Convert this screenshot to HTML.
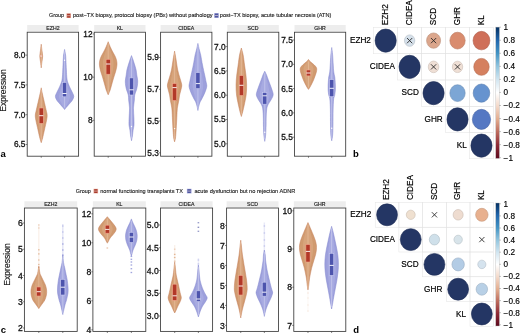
<!DOCTYPE html>
<html><head><meta charset="utf-8"><title>Figure</title>
<style>html,body{margin:0;padding:0;background:#fff;width:520px;height:333px;overflow:hidden}svg{display:block}text{font-family:"Liberation Sans",sans-serif}</style>
</head><body>
<svg width="520" height="333" viewBox="0 0 520 333">
<rect width="520" height="333" fill="#ffffff"/>
<rect x="27.20" y="25.00" width="51.40" height="6.20" fill="#ededed"/>
<text x="52.90" y="29.90" font-size="5.20" text-anchor="middle" fill="#1a1a1a" stroke="#1a1a1a" stroke-width="0.15">EZH2</text>
<line x1="25.60" y1="144.50" x2="27.20" y2="144.50" stroke="#333" stroke-width="0.6"/>
<text x="25.50" y="147.49" font-size="8.30" text-anchor="end" fill="#111" stroke="#111" stroke-width="0.28">6.5</text>
<line x1="25.60" y1="114.70" x2="27.20" y2="114.70" stroke="#333" stroke-width="0.6"/>
<text x="25.50" y="117.69" font-size="8.30" text-anchor="end" fill="#111" stroke="#111" stroke-width="0.28">7.0</text>
<line x1="25.60" y1="84.90" x2="27.20" y2="84.90" stroke="#333" stroke-width="0.6"/>
<text x="25.50" y="87.89" font-size="8.30" text-anchor="end" fill="#111" stroke="#111" stroke-width="0.28">7.5</text>
<line x1="25.60" y1="55.10" x2="27.20" y2="55.10" stroke="#333" stroke-width="0.6"/>
<text x="25.50" y="58.09" font-size="8.30" text-anchor="end" fill="#111" stroke="#111" stroke-width="0.28">8.0</text>
<line x1="41.22" y1="156.20" x2="41.22" y2="157.80" stroke="#333" stroke-width="0.6"/>
<line x1="64.58" y1="156.20" x2="64.58" y2="157.80" stroke="#333" stroke-width="0.6"/>
<rect x="94.20" y="25.00" width="51.30" height="6.20" fill="#ededed"/>
<text x="119.85" y="29.90" font-size="5.20" text-anchor="middle" fill="#1a1a1a" stroke="#1a1a1a" stroke-width="0.15">KL</text>
<line x1="92.60" y1="120.30" x2="94.20" y2="120.30" stroke="#333" stroke-width="0.6"/>
<text x="92.50" y="123.29" font-size="8.30" text-anchor="end" fill="#111" stroke="#111" stroke-width="0.28">8</text>
<line x1="92.60" y1="77.15" x2="94.20" y2="77.15" stroke="#333" stroke-width="0.6"/>
<text x="92.50" y="80.14" font-size="8.30" text-anchor="end" fill="#111" stroke="#111" stroke-width="0.28">10</text>
<line x1="92.60" y1="34.00" x2="94.20" y2="34.00" stroke="#333" stroke-width="0.6"/>
<text x="92.50" y="36.99" font-size="8.30" text-anchor="end" fill="#111" stroke="#111" stroke-width="0.28">12</text>
<line x1="108.19" y1="156.20" x2="108.19" y2="157.80" stroke="#333" stroke-width="0.6"/>
<line x1="131.51" y1="156.20" x2="131.51" y2="157.80" stroke="#333" stroke-width="0.6"/>
<rect x="160.60" y="25.00" width="51.30" height="6.20" fill="#ededed"/>
<text x="186.25" y="29.90" font-size="5.20" text-anchor="middle" fill="#1a1a1a" stroke="#1a1a1a" stroke-width="0.15">CIDEA</text>
<line x1="159.00" y1="152.80" x2="160.60" y2="152.80" stroke="#333" stroke-width="0.6"/>
<text x="158.90" y="155.79" font-size="8.30" text-anchor="end" fill="#111" stroke="#111" stroke-width="0.28">5.3</text>
<line x1="159.00" y1="121.03" x2="160.60" y2="121.03" stroke="#333" stroke-width="0.6"/>
<text x="158.90" y="124.02" font-size="8.30" text-anchor="end" fill="#111" stroke="#111" stroke-width="0.28">5.5</text>
<line x1="159.00" y1="89.27" x2="160.60" y2="89.27" stroke="#333" stroke-width="0.6"/>
<text x="158.90" y="92.25" font-size="8.30" text-anchor="end" fill="#111" stroke="#111" stroke-width="0.28">5.7</text>
<line x1="159.00" y1="57.50" x2="160.60" y2="57.50" stroke="#333" stroke-width="0.6"/>
<text x="158.90" y="60.49" font-size="8.30" text-anchor="end" fill="#111" stroke="#111" stroke-width="0.28">5.9</text>
<line x1="174.59" y1="156.20" x2="174.59" y2="157.80" stroke="#333" stroke-width="0.6"/>
<line x1="197.91" y1="156.20" x2="197.91" y2="157.80" stroke="#333" stroke-width="0.6"/>
<rect x="227.30" y="25.00" width="51.50" height="6.20" fill="#ededed"/>
<text x="253.05" y="29.90" font-size="5.20" text-anchor="middle" fill="#1a1a1a" stroke="#1a1a1a" stroke-width="0.15">SCD</text>
<line x1="225.70" y1="143.80" x2="227.30" y2="143.80" stroke="#333" stroke-width="0.6"/>
<text x="225.60" y="146.79" font-size="8.30" text-anchor="end" fill="#111" stroke="#111" stroke-width="0.28">5.0</text>
<line x1="225.70" y1="119.50" x2="227.30" y2="119.50" stroke="#333" stroke-width="0.6"/>
<text x="225.60" y="122.49" font-size="8.30" text-anchor="end" fill="#111" stroke="#111" stroke-width="0.28">5.5</text>
<line x1="225.70" y1="95.20" x2="227.30" y2="95.20" stroke="#333" stroke-width="0.6"/>
<text x="225.60" y="98.19" font-size="8.30" text-anchor="end" fill="#111" stroke="#111" stroke-width="0.28">6.0</text>
<line x1="225.70" y1="70.90" x2="227.30" y2="70.90" stroke="#333" stroke-width="0.6"/>
<text x="225.60" y="73.89" font-size="8.30" text-anchor="end" fill="#111" stroke="#111" stroke-width="0.28">6.5</text>
<line x1="225.70" y1="46.60" x2="227.30" y2="46.60" stroke="#333" stroke-width="0.6"/>
<text x="225.60" y="49.59" font-size="8.30" text-anchor="end" fill="#111" stroke="#111" stroke-width="0.28">7.0</text>
<line x1="241.35" y1="156.20" x2="241.35" y2="157.80" stroke="#333" stroke-width="0.6"/>
<line x1="264.75" y1="156.20" x2="264.75" y2="157.80" stroke="#333" stroke-width="0.6"/>
<rect x="294.50" y="25.00" width="51.20" height="6.20" fill="#ededed"/>
<text x="320.10" y="29.90" font-size="5.20" text-anchor="middle" fill="#1a1a1a" stroke="#1a1a1a" stroke-width="0.15">GHR</text>
<line x1="292.90" y1="137.20" x2="294.50" y2="137.20" stroke="#333" stroke-width="0.6"/>
<text x="292.80" y="140.19" font-size="8.30" text-anchor="end" fill="#111" stroke="#111" stroke-width="0.28">5.5</text>
<line x1="292.90" y1="112.90" x2="294.50" y2="112.90" stroke="#333" stroke-width="0.6"/>
<text x="292.80" y="115.89" font-size="8.30" text-anchor="end" fill="#111" stroke="#111" stroke-width="0.28">6.0</text>
<line x1="292.90" y1="88.60" x2="294.50" y2="88.60" stroke="#333" stroke-width="0.6"/>
<text x="292.80" y="91.59" font-size="8.30" text-anchor="end" fill="#111" stroke="#111" stroke-width="0.28">6.5</text>
<line x1="292.90" y1="64.30" x2="294.50" y2="64.30" stroke="#333" stroke-width="0.6"/>
<text x="292.80" y="67.29" font-size="8.30" text-anchor="end" fill="#111" stroke="#111" stroke-width="0.28">7.0</text>
<line x1="292.90" y1="40.00" x2="294.50" y2="40.00" stroke="#333" stroke-width="0.6"/>
<text x="292.80" y="42.99" font-size="8.30" text-anchor="end" fill="#111" stroke="#111" stroke-width="0.28">7.5</text>
<line x1="308.46" y1="156.20" x2="308.46" y2="157.80" stroke="#333" stroke-width="0.6"/>
<line x1="331.74" y1="156.20" x2="331.74" y2="157.80" stroke="#333" stroke-width="0.6"/>
<rect x="24.40" y="201.30" width="52.80" height="5.60" fill="#ededed"/>
<text x="50.80" y="205.60" font-size="5.20" text-anchor="middle" fill="#1a1a1a" stroke="#1a1a1a" stroke-width="0.15">EZH2</text>
<line x1="22.80" y1="328.00" x2="24.40" y2="328.00" stroke="#333" stroke-width="0.6"/>
<text x="22.70" y="331.10" font-size="8.60" text-anchor="end" fill="#111" stroke="#111" stroke-width="0.28">2</text>
<line x1="22.80" y1="301.75" x2="24.40" y2="301.75" stroke="#333" stroke-width="0.6"/>
<text x="22.70" y="304.85" font-size="8.60" text-anchor="end" fill="#111" stroke="#111" stroke-width="0.28">3</text>
<line x1="22.80" y1="275.50" x2="24.40" y2="275.50" stroke="#333" stroke-width="0.6"/>
<text x="22.70" y="278.60" font-size="8.60" text-anchor="end" fill="#111" stroke="#111" stroke-width="0.28">4</text>
<line x1="22.80" y1="249.25" x2="24.40" y2="249.25" stroke="#333" stroke-width="0.6"/>
<text x="22.70" y="252.35" font-size="8.60" text-anchor="end" fill="#111" stroke="#111" stroke-width="0.28">5</text>
<line x1="22.80" y1="223.00" x2="24.40" y2="223.00" stroke="#333" stroke-width="0.6"/>
<text x="22.70" y="226.10" font-size="8.60" text-anchor="end" fill="#111" stroke="#111" stroke-width="0.28">6</text>
<line x1="38.80" y1="331.40" x2="38.80" y2="333.00" stroke="#333" stroke-width="0.6"/>
<line x1="62.80" y1="331.40" x2="62.80" y2="333.00" stroke="#333" stroke-width="0.6"/>
<rect x="92.90" y="201.30" width="52.90" height="5.60" fill="#ededed"/>
<text x="119.35" y="205.60" font-size="5.20" text-anchor="middle" fill="#1a1a1a" stroke="#1a1a1a" stroke-width="0.15">KL</text>
<line x1="91.30" y1="329.80" x2="92.90" y2="329.80" stroke="#333" stroke-width="0.6"/>
<text x="91.20" y="332.90" font-size="8.60" text-anchor="end" fill="#111" stroke="#111" stroke-width="0.28">4</text>
<line x1="91.30" y1="300.80" x2="92.90" y2="300.80" stroke="#333" stroke-width="0.6"/>
<text x="91.20" y="303.90" font-size="8.60" text-anchor="end" fill="#111" stroke="#111" stroke-width="0.28">6</text>
<line x1="91.30" y1="271.80" x2="92.90" y2="271.80" stroke="#333" stroke-width="0.6"/>
<text x="91.20" y="274.90" font-size="8.60" text-anchor="end" fill="#111" stroke="#111" stroke-width="0.28">8</text>
<line x1="91.30" y1="242.80" x2="92.90" y2="242.80" stroke="#333" stroke-width="0.6"/>
<text x="91.20" y="245.90" font-size="8.60" text-anchor="end" fill="#111" stroke="#111" stroke-width="0.28">10</text>
<line x1="91.30" y1="213.80" x2="92.90" y2="213.80" stroke="#333" stroke-width="0.6"/>
<text x="91.20" y="216.90" font-size="8.60" text-anchor="end" fill="#111" stroke="#111" stroke-width="0.28">12</text>
<line x1="107.33" y1="331.40" x2="107.33" y2="333.00" stroke="#333" stroke-width="0.6"/>
<line x1="131.37" y1="331.40" x2="131.37" y2="333.00" stroke="#333" stroke-width="0.6"/>
<rect x="160.50" y="201.30" width="52.10" height="5.60" fill="#ededed"/>
<text x="186.55" y="205.60" font-size="5.20" text-anchor="middle" fill="#1a1a1a" stroke="#1a1a1a" stroke-width="0.15">CIDEA</text>
<line x1="158.90" y1="316.00" x2="160.50" y2="316.00" stroke="#333" stroke-width="0.6"/>
<text x="158.80" y="319.10" font-size="8.60" text-anchor="end" fill="#111" stroke="#111" stroke-width="0.28">3.0</text>
<line x1="158.90" y1="293.25" x2="160.50" y2="293.25" stroke="#333" stroke-width="0.6"/>
<text x="158.80" y="296.35" font-size="8.60" text-anchor="end" fill="#111" stroke="#111" stroke-width="0.28">3.5</text>
<line x1="158.90" y1="270.50" x2="160.50" y2="270.50" stroke="#333" stroke-width="0.6"/>
<text x="158.80" y="273.60" font-size="8.60" text-anchor="end" fill="#111" stroke="#111" stroke-width="0.28">4.0</text>
<line x1="158.90" y1="247.75" x2="160.50" y2="247.75" stroke="#333" stroke-width="0.6"/>
<text x="158.80" y="250.85" font-size="8.60" text-anchor="end" fill="#111" stroke="#111" stroke-width="0.28">4.5</text>
<line x1="158.90" y1="225.00" x2="160.50" y2="225.00" stroke="#333" stroke-width="0.6"/>
<text x="158.80" y="228.10" font-size="8.60" text-anchor="end" fill="#111" stroke="#111" stroke-width="0.28">5.0</text>
<line x1="174.71" y1="331.40" x2="174.71" y2="333.00" stroke="#333" stroke-width="0.6"/>
<line x1="198.39" y1="331.40" x2="198.39" y2="333.00" stroke="#333" stroke-width="0.6"/>
<rect x="226.60" y="201.30" width="51.90" height="5.60" fill="#ededed"/>
<text x="252.55" y="205.60" font-size="5.20" text-anchor="middle" fill="#1a1a1a" stroke="#1a1a1a" stroke-width="0.15">SCD</text>
<line x1="225.00" y1="325.40" x2="226.60" y2="325.40" stroke="#333" stroke-width="0.6"/>
<text x="224.90" y="328.50" font-size="8.60" text-anchor="end" fill="#111" stroke="#111" stroke-width="0.28">3</text>
<line x1="225.00" y1="305.42" x2="226.60" y2="305.42" stroke="#333" stroke-width="0.6"/>
<text x="224.90" y="308.52" font-size="8.60" text-anchor="end" fill="#111" stroke="#111" stroke-width="0.28">4</text>
<line x1="225.00" y1="285.44" x2="226.60" y2="285.44" stroke="#333" stroke-width="0.6"/>
<text x="224.90" y="288.54" font-size="8.60" text-anchor="end" fill="#111" stroke="#111" stroke-width="0.28">5</text>
<line x1="225.00" y1="265.46" x2="226.60" y2="265.46" stroke="#333" stroke-width="0.6"/>
<text x="224.90" y="268.56" font-size="8.60" text-anchor="end" fill="#111" stroke="#111" stroke-width="0.28">6</text>
<line x1="225.00" y1="245.48" x2="226.60" y2="245.48" stroke="#333" stroke-width="0.6"/>
<text x="224.90" y="248.58" font-size="8.60" text-anchor="end" fill="#111" stroke="#111" stroke-width="0.28">7</text>
<line x1="225.00" y1="225.50" x2="226.60" y2="225.50" stroke="#333" stroke-width="0.6"/>
<text x="224.90" y="228.60" font-size="8.60" text-anchor="end" fill="#111" stroke="#111" stroke-width="0.28">8</text>
<line x1="240.75" y1="331.40" x2="240.75" y2="333.00" stroke="#333" stroke-width="0.6"/>
<line x1="264.35" y1="331.40" x2="264.35" y2="333.00" stroke="#333" stroke-width="0.6"/>
<rect x="293.80" y="201.30" width="52.00" height="5.60" fill="#ededed"/>
<text x="319.80" y="205.60" font-size="5.20" text-anchor="middle" fill="#1a1a1a" stroke="#1a1a1a" stroke-width="0.15">GHR</text>
<line x1="292.20" y1="325.40" x2="293.80" y2="325.40" stroke="#333" stroke-width="0.6"/>
<text x="292.10" y="328.50" font-size="8.60" text-anchor="end" fill="#111" stroke="#111" stroke-width="0.28">7</text>
<line x1="292.20" y1="287.20" x2="293.80" y2="287.20" stroke="#333" stroke-width="0.6"/>
<text x="292.10" y="290.30" font-size="8.60" text-anchor="end" fill="#111" stroke="#111" stroke-width="0.28">8</text>
<line x1="292.20" y1="249.00" x2="293.80" y2="249.00" stroke="#333" stroke-width="0.6"/>
<text x="292.10" y="252.10" font-size="8.60" text-anchor="end" fill="#111" stroke="#111" stroke-width="0.28">9</text>
<line x1="292.20" y1="210.80" x2="293.80" y2="210.80" stroke="#333" stroke-width="0.6"/>
<text x="292.10" y="213.90" font-size="8.60" text-anchor="end" fill="#111" stroke="#111" stroke-width="0.28">10</text>
<line x1="307.98" y1="331.40" x2="307.98" y2="333.00" stroke="#333" stroke-width="0.6"/>
<line x1="331.62" y1="331.40" x2="331.62" y2="333.00" stroke="#333" stroke-width="0.6"/>
<path d="M41.22 44.20 C41.33 45.17 41.68 47.98 41.92 50.00 C42.16 52.02 42.67 54.30 42.67 56.30 C42.67 58.30 42.16 60.07 41.92 62.00 C41.68 63.93 41.33 66.92 41.22 67.90 L41.22 67.90 C41.10 66.92 40.76 63.93 40.52 62.00 C40.28 60.07 39.77 58.30 39.77 56.30 C39.77 54.30 40.28 52.02 40.52 50.00 C40.76 47.98 41.10 45.17 41.22 44.20 Z" fill="#d09a6f" stroke="#c47e5a" stroke-width="0.5"/>
<path d="M41.22 44.20 C41.29 45.17 41.49 47.98 41.64 50.00 C41.78 52.02 42.09 54.30 42.09 56.30 C42.09 58.30 41.78 60.07 41.64 62.00 C41.49 63.93 41.29 66.92 41.22 67.90 L41.22 67.90 C41.15 66.92 40.94 63.93 40.80 62.00 C40.65 60.07 40.35 58.30 40.35 56.30 C40.35 54.30 40.65 52.02 40.80 50.00 C40.94 47.98 41.15 45.17 41.22 44.20 Z" fill="#e6b896" fill-opacity="0.35"/>
<line x1="41.22" y1="46.20" x2="41.22" y2="65.90" stroke="#f2cdb0" stroke-width="0.45"/>
<rect x="40.42" y="55.60" width="1.60" height="1.00" fill="#b23828" stroke="#f0a48a" stroke-width="0.6"/>
<line x1="40.42" y1="56.10" x2="42.02" y2="56.10" stroke="#ffffff" stroke-width="0.9"/>
<path d="M41.22 87.80 C41.38 88.67 41.78 90.97 42.22 93.00 C42.65 95.03 43.17 97.17 43.82 100.00 C44.47 102.83 45.57 107.50 46.12 110.00 C46.67 112.50 47.03 113.33 47.12 115.00 C47.20 116.67 47.07 117.50 46.62 120.00 C46.17 122.50 45.08 127.00 44.42 130.00 C43.75 133.00 43.15 135.88 42.62 138.00 C42.08 140.12 41.45 141.92 41.22 142.70 L41.22 142.70 C40.98 141.92 40.35 140.12 39.82 138.00 C39.28 135.88 38.68 133.00 38.02 130.00 C37.35 127.00 36.27 122.50 35.82 120.00 C35.37 117.50 35.23 116.67 35.32 115.00 C35.40 113.33 35.77 112.50 36.32 110.00 C36.87 107.50 37.97 102.83 38.62 100.00 C39.27 97.17 39.78 95.03 40.22 93.00 C40.65 90.97 41.05 88.67 41.22 87.80 Z" fill="#d09a6f" stroke="#c47e5a" stroke-width="0.5"/>
<path d="M41.22 87.80 C41.32 88.67 41.56 90.97 41.82 93.00 C42.08 95.03 42.39 97.17 42.78 100.00 C43.17 102.83 43.83 107.50 44.16 110.00 C44.49 112.50 44.71 113.33 44.76 115.00 C44.81 116.67 44.73 117.50 44.46 120.00 C44.19 122.50 43.54 127.00 43.14 130.00 C42.74 133.00 42.38 135.88 42.06 138.00 C41.74 140.12 41.36 141.92 41.22 142.70 L41.22 142.70 C41.08 141.92 40.70 140.12 40.38 138.00 C40.06 135.88 39.70 133.00 39.30 130.00 C38.90 127.00 38.25 122.50 37.98 120.00 C37.71 117.50 37.63 116.67 37.68 115.00 C37.73 113.33 37.95 112.50 38.28 110.00 C38.61 107.50 39.27 102.83 39.66 100.00 C40.05 97.17 40.36 95.03 40.62 93.00 C40.88 90.97 41.12 88.67 41.22 87.80 Z" fill="#e6b896" fill-opacity="0.35"/>
<line x1="41.22" y1="89.80" x2="41.22" y2="140.70" stroke="#f2cdb0" stroke-width="0.45"/>
<rect x="39.12" y="108.00" width="4.20" height="15.30" fill="#b23828" stroke="#f0a48a" stroke-width="0.6"/>
<line x1="39.12" y1="115.70" x2="43.32" y2="115.70" stroke="#ffffff" stroke-width="0.9"/>
<path d="M64.58 49.40 C64.75 50.33 65.36 53.23 65.58 55.00 C65.81 56.77 65.80 57.50 65.93 60.00 C66.07 62.50 66.21 66.83 66.38 70.00 C66.56 73.17 66.65 76.67 66.98 79.00 C67.32 81.33 67.78 82.33 68.38 84.00 C68.98 85.67 69.88 87.50 70.58 89.00 C71.28 90.50 72.05 91.75 72.58 93.00 C73.12 94.25 73.85 95.25 73.78 96.50 C73.72 97.75 73.02 99.17 72.18 100.50 C71.35 101.83 69.78 103.33 68.78 104.50 C67.78 105.67 66.88 106.67 66.18 107.50 C65.48 108.33 64.85 109.17 64.58 109.50 L64.58 109.50 C64.32 109.17 63.68 108.33 62.98 107.50 C62.28 106.67 61.38 105.67 60.38 104.50 C59.38 103.33 57.82 101.83 56.98 100.50 C56.15 99.17 55.45 97.75 55.38 96.50 C55.32 95.25 56.05 94.25 56.58 93.00 C57.12 91.75 57.88 90.50 58.58 89.00 C59.28 87.50 60.18 85.67 60.78 84.00 C61.38 82.33 61.85 81.33 62.18 79.00 C62.52 76.67 62.61 73.17 62.78 70.00 C62.96 66.83 63.10 62.50 63.23 60.00 C63.37 57.50 63.36 56.77 63.58 55.00 C63.81 53.23 64.42 50.33 64.58 49.40 Z" fill="#9da0dc" stroke="#8387cf" stroke-width="0.5"/>
<path d="M64.58 49.40 C64.68 50.33 65.05 53.23 65.18 55.00 C65.32 56.77 65.31 57.50 65.39 60.00 C65.47 62.50 65.56 66.83 65.66 70.00 C65.77 73.17 65.82 76.67 66.02 79.00 C66.22 81.33 66.50 82.33 66.86 84.00 C67.22 85.67 67.76 87.50 68.18 89.00 C68.60 90.50 69.06 91.75 69.38 93.00 C69.70 94.25 70.14 95.25 70.10 96.50 C70.06 97.75 69.64 99.17 69.14 100.50 C68.64 101.83 67.70 103.33 67.10 104.50 C66.50 105.67 65.96 106.67 65.54 107.50 C65.12 108.33 64.74 109.17 64.58 109.50 L64.58 109.50 C64.42 109.17 64.04 108.33 63.62 107.50 C63.20 106.67 62.66 105.67 62.06 104.50 C61.46 103.33 60.52 101.83 60.02 100.50 C59.52 99.17 59.10 97.75 59.06 96.50 C59.02 95.25 59.46 94.25 59.78 93.00 C60.10 91.75 60.56 90.50 60.98 89.00 C61.40 87.50 61.94 85.67 62.30 84.00 C62.66 82.33 62.94 81.33 63.14 79.00 C63.34 76.67 63.40 73.17 63.50 70.00 C63.61 66.83 63.69 62.50 63.77 60.00 C63.85 57.50 63.85 56.77 63.98 55.00 C64.12 53.23 64.48 50.33 64.58 49.40 Z" fill="#babdec" fill-opacity="0.35"/>
<line x1="64.58" y1="51.40" x2="64.58" y2="107.50" stroke="#dedff6" stroke-width="0.45"/>
<rect x="62.48" y="82.50" width="4.20" height="14.30" fill="#4d54ad" stroke="#c6c9f0" stroke-width="0.6"/>
<line x1="62.48" y1="93.50" x2="66.68" y2="93.50" stroke="#ffffff" stroke-width="0.9"/>
<circle cx="64.58" cy="60.30" r="0.7" fill="#ffffff"/>
<path d="M108.19 41.70 C108.41 42.25 109.06 43.95 109.49 45.00 C109.92 46.05 110.24 46.83 110.79 48.00 C111.34 49.17 112.09 50.67 112.79 52.00 C113.49 53.33 114.37 54.67 114.99 56.00 C115.61 57.33 116.16 58.67 116.49 60.00 C116.82 61.33 116.99 62.67 116.99 64.00 C116.99 65.33 116.74 66.67 116.49 68.00 C116.24 69.33 115.87 70.67 115.49 72.00 C115.11 73.33 114.61 74.67 114.19 76.00 C113.77 77.33 113.42 78.50 112.99 80.00 C112.56 81.50 112.06 83.33 111.59 85.00 C111.12 86.67 110.76 88.37 110.19 90.00 C109.62 91.63 108.52 94.00 108.19 94.80 L108.19 94.80 C107.86 94.00 106.76 91.63 106.19 90.00 C105.62 88.37 105.26 86.67 104.79 85.00 C104.32 83.33 103.82 81.50 103.39 80.00 C102.96 78.50 102.61 77.33 102.19 76.00 C101.77 74.67 101.27 73.33 100.89 72.00 C100.51 70.67 100.14 69.33 99.89 68.00 C99.64 66.67 99.39 65.33 99.39 64.00 C99.39 62.67 99.56 61.33 99.89 60.00 C100.22 58.67 100.77 57.33 101.39 56.00 C102.01 54.67 102.89 53.33 103.59 52.00 C104.29 50.67 105.04 49.17 105.59 48.00 C106.14 46.83 106.46 46.05 106.89 45.00 C107.32 43.95 107.97 42.25 108.19 41.70 Z" fill="#d09a6f" stroke="#c47e5a" stroke-width="0.5"/>
<path d="M108.19 41.70 C108.32 42.25 108.71 43.95 108.97 45.00 C109.23 46.05 109.42 46.83 109.75 48.00 C110.08 49.17 110.53 50.67 110.95 52.00 C111.37 53.33 111.90 54.67 112.27 56.00 C112.64 57.33 112.97 58.67 113.17 60.00 C113.37 61.33 113.47 62.67 113.47 64.00 C113.47 65.33 113.32 66.67 113.17 68.00 C113.02 69.33 112.80 70.67 112.57 72.00 C112.34 73.33 112.04 74.67 111.79 76.00 C111.54 77.33 111.33 78.50 111.07 80.00 C110.81 81.50 110.51 83.33 110.23 85.00 C109.95 86.67 109.73 88.37 109.39 90.00 C109.05 91.63 108.39 94.00 108.19 94.80 L108.19 94.80 C107.99 94.00 107.33 91.63 106.99 90.00 C106.65 88.37 106.43 86.67 106.15 85.00 C105.87 83.33 105.57 81.50 105.31 80.00 C105.05 78.50 104.84 77.33 104.59 76.00 C104.34 74.67 104.04 73.33 103.81 72.00 C103.58 70.67 103.36 69.33 103.21 68.00 C103.06 66.67 102.91 65.33 102.91 64.00 C102.91 62.67 103.01 61.33 103.21 60.00 C103.41 58.67 103.74 57.33 104.11 56.00 C104.48 54.67 105.01 53.33 105.43 52.00 C105.85 50.67 106.30 49.17 106.63 48.00 C106.96 46.83 107.15 46.05 107.41 45.00 C107.67 43.95 108.06 42.25 108.19 41.70 Z" fill="#e6b896" fill-opacity="0.35"/>
<line x1="108.19" y1="43.70" x2="108.19" y2="92.80" stroke="#f2cdb0" stroke-width="0.45"/>
<rect x="106.09" y="59.40" width="4.20" height="14.80" fill="#b23828" stroke="#f0a48a" stroke-width="0.6"/>
<line x1="106.09" y1="64.00" x2="110.29" y2="64.00" stroke="#ffffff" stroke-width="0.9"/>
<path d="M131.51 55.60 C131.78 56.33 132.58 58.43 133.11 60.00 C133.64 61.57 134.21 63.33 134.71 65.00 C135.21 66.67 135.76 68.33 136.11 70.00 C136.46 71.67 136.54 73.17 136.81 75.00 C137.08 76.83 137.63 79.17 137.71 81.00 C137.79 82.83 137.53 84.50 137.31 86.00 C137.09 87.50 136.84 88.50 136.41 90.00 C135.98 91.50 135.05 93.33 134.71 95.00 C134.37 96.67 134.52 98.33 134.36 100.00 C134.20 101.67 133.90 103.33 133.76 105.00 C133.62 106.67 133.48 107.83 133.51 110.00 C133.53 112.17 133.83 115.50 133.91 118.00 C133.99 120.50 134.14 123.00 134.01 125.00 C133.88 127.00 133.38 128.17 133.11 130.00 C132.84 131.83 132.68 134.22 132.41 136.00 C132.14 137.78 131.66 139.92 131.51 140.70 L131.51 140.70 C131.36 139.92 130.88 137.78 130.61 136.00 C130.34 134.22 130.18 131.83 129.91 130.00 C129.64 128.17 129.14 127.00 129.01 125.00 C128.88 123.00 129.03 120.50 129.11 118.00 C129.19 115.50 129.48 112.17 129.51 110.00 C129.53 107.83 129.40 106.67 129.26 105.00 C129.12 103.33 128.82 101.67 128.66 100.00 C128.50 98.33 128.65 96.67 128.31 95.00 C127.97 93.33 127.04 91.50 126.61 90.00 C126.18 88.50 125.93 87.50 125.71 86.00 C125.49 84.50 125.23 82.83 125.31 81.00 C125.39 79.17 125.94 76.83 126.21 75.00 C126.48 73.17 126.56 71.67 126.91 70.00 C127.26 68.33 127.81 66.67 128.31 65.00 C128.81 63.33 129.38 61.57 129.91 60.00 C130.44 58.43 131.24 56.33 131.51 55.60 Z" fill="#9da0dc" stroke="#8387cf" stroke-width="0.5"/>
<path d="M131.51 55.60 C131.67 56.33 132.15 58.43 132.47 60.00 C132.79 61.57 133.13 63.33 133.43 65.00 C133.73 66.67 134.06 68.33 134.27 70.00 C134.48 71.67 134.53 73.17 134.69 75.00 C134.85 76.83 135.18 79.17 135.23 81.00 C135.28 82.83 135.12 84.50 134.99 86.00 C134.86 87.50 134.71 88.50 134.45 90.00 C134.19 91.50 133.63 93.33 133.43 95.00 C133.22 96.67 133.31 98.33 133.22 100.00 C133.12 101.67 132.94 103.33 132.86 105.00 C132.77 106.67 132.69 107.83 132.71 110.00 C132.72 112.17 132.90 115.50 132.95 118.00 C133.00 120.50 133.09 123.00 133.01 125.00 C132.93 127.00 132.63 128.17 132.47 130.00 C132.31 131.83 132.21 134.22 132.05 136.00 C131.89 137.78 131.60 139.92 131.51 140.70 L131.51 140.70 C131.42 139.92 131.13 137.78 130.97 136.00 C130.81 134.22 130.71 131.83 130.55 130.00 C130.39 128.17 130.09 127.00 130.01 125.00 C129.93 123.00 130.02 120.50 130.07 118.00 C130.12 115.50 130.29 112.17 130.31 110.00 C130.32 107.83 130.24 106.67 130.16 105.00 C130.07 103.33 129.89 101.67 129.80 100.00 C129.70 98.33 129.79 96.67 129.59 95.00 C129.38 93.33 128.83 91.50 128.57 90.00 C128.31 88.50 128.16 87.50 128.03 86.00 C127.90 84.50 127.74 82.83 127.79 81.00 C127.84 79.17 128.17 76.83 128.33 75.00 C128.49 73.17 128.54 71.67 128.75 70.00 C128.96 68.33 129.29 66.67 129.59 65.00 C129.89 63.33 130.23 61.57 130.55 60.00 C130.87 58.43 131.35 56.33 131.51 55.60 Z" fill="#babdec" fill-opacity="0.35"/>
<line x1="131.51" y1="57.60" x2="131.51" y2="138.70" stroke="#dedff6" stroke-width="0.45"/>
<rect x="129.41" y="77.90" width="4.20" height="17.10" fill="#4d54ad" stroke="#c6c9f0" stroke-width="0.6"/>
<line x1="129.41" y1="89.80" x2="133.61" y2="89.80" stroke="#ffffff" stroke-width="0.9"/>
<circle cx="131.51" cy="126.50" r="0.7" fill="#ffffff"/>
<path d="M174.59 51.10 C174.85 52.58 175.62 56.85 176.14 60.00 C176.66 63.15 177.07 67.00 177.69 70.00 C178.32 73.00 179.21 75.50 179.89 78.00 C180.57 80.50 181.62 83.00 181.79 85.00 C181.96 87.00 181.26 88.33 180.89 90.00 C180.52 91.67 179.92 93.33 179.59 95.00 C179.26 96.67 179.17 98.33 178.89 100.00 C178.61 101.67 178.17 103.33 177.89 105.00 C177.61 106.67 177.39 107.50 177.19 110.00 C176.99 112.50 176.87 116.67 176.69 120.00 C176.52 123.33 176.34 127.00 176.14 130.00 C175.94 133.00 175.75 136.02 175.49 138.00 C175.23 139.98 174.74 141.25 174.59 141.90 L174.59 141.90 C174.44 141.25 173.95 139.98 173.69 138.00 C173.43 136.02 173.24 133.00 173.04 130.00 C172.84 127.00 172.67 123.33 172.49 120.00 C172.32 116.67 172.19 112.50 171.99 110.00 C171.79 107.50 171.57 106.67 171.29 105.00 C171.01 103.33 170.57 101.67 170.29 100.00 C170.01 98.33 169.92 96.67 169.59 95.00 C169.26 93.33 168.66 91.67 168.29 90.00 C167.92 88.33 167.22 87.00 167.39 85.00 C167.56 83.00 168.61 80.50 169.29 78.00 C169.97 75.50 170.87 73.00 171.49 70.00 C172.12 67.00 172.52 63.15 173.04 60.00 C173.56 56.85 174.33 52.58 174.59 51.10 Z" fill="#d09a6f" stroke="#c47e5a" stroke-width="0.5"/>
<path d="M174.59 51.10 C174.75 52.58 175.21 56.85 175.52 60.00 C175.83 63.15 176.08 67.00 176.45 70.00 C176.83 73.00 177.36 75.50 177.77 78.00 C178.18 80.50 178.81 83.00 178.91 85.00 C179.01 87.00 178.59 88.33 178.37 90.00 C178.15 91.67 177.79 93.33 177.59 95.00 C177.39 96.67 177.34 98.33 177.17 100.00 C177.00 101.67 176.74 103.33 176.57 105.00 C176.40 106.67 176.27 107.50 176.15 110.00 C176.03 112.50 175.96 116.67 175.85 120.00 C175.75 123.33 175.64 127.00 175.52 130.00 C175.40 133.00 175.29 136.02 175.13 138.00 C174.98 139.98 174.68 141.25 174.59 141.90 L174.59 141.90 C174.50 141.25 174.21 139.98 174.05 138.00 C173.90 136.02 173.78 133.00 173.66 130.00 C173.54 127.00 173.44 123.33 173.33 120.00 C173.23 116.67 173.15 112.50 173.03 110.00 C172.91 107.50 172.78 106.67 172.61 105.00 C172.44 103.33 172.18 101.67 172.01 100.00 C171.84 98.33 171.79 96.67 171.59 95.00 C171.39 93.33 171.03 91.67 170.81 90.00 C170.59 88.33 170.17 87.00 170.27 85.00 C170.37 83.00 171.00 80.50 171.41 78.00 C171.82 75.50 172.36 73.00 172.73 70.00 C173.11 67.00 173.35 63.15 173.66 60.00 C173.97 56.85 174.44 52.58 174.59 51.10 Z" fill="#e6b896" fill-opacity="0.35"/>
<line x1="174.59" y1="53.10" x2="174.59" y2="139.90" stroke="#f2cdb0" stroke-width="0.45"/>
<rect x="172.49" y="83.60" width="4.20" height="16.90" fill="#b23828" stroke="#f0a48a" stroke-width="0.6"/>
<line x1="172.49" y1="87.60" x2="176.69" y2="87.60" stroke="#ffffff" stroke-width="0.9"/>
<circle cx="174.59" cy="128.60" r="0.7" fill="#ffffff"/>
<path d="M197.91 43.40 C198.16 44.50 198.94 48.07 199.41 50.00 C199.88 51.93 200.19 52.50 200.71 55.00 C201.23 57.50 201.85 61.67 202.51 65.00 C203.17 68.33 204.06 72.17 204.66 75.00 C205.26 77.83 205.75 80.17 206.11 82.00 C206.47 83.83 206.86 84.67 206.81 86.00 C206.76 87.33 206.31 88.50 205.81 90.00 C205.31 91.50 204.58 93.33 203.81 95.00 C203.04 96.67 201.89 98.67 201.21 100.00 C200.53 101.33 200.14 101.83 199.71 103.00 C199.28 104.17 198.91 105.75 198.61 107.00 C198.31 108.25 198.03 109.92 197.91 110.50 L197.91 110.50 C197.79 109.92 197.51 108.25 197.21 107.00 C196.91 105.75 196.54 104.17 196.11 103.00 C195.68 101.83 195.29 101.33 194.61 100.00 C193.93 98.67 192.78 96.67 192.01 95.00 C191.24 93.33 190.51 91.50 190.01 90.00 C189.51 88.50 189.06 87.33 189.01 86.00 C188.96 84.67 189.35 83.83 189.71 82.00 C190.07 80.17 190.56 77.83 191.16 75.00 C191.76 72.17 192.65 68.33 193.31 65.00 C193.97 61.67 194.59 57.50 195.11 55.00 C195.63 52.50 195.94 51.93 196.41 50.00 C196.88 48.07 197.66 44.50 197.91 43.40 Z" fill="#9da0dc" stroke="#8387cf" stroke-width="0.5"/>
<path d="M197.91 43.40 C198.06 44.50 198.53 48.07 198.81 50.00 C199.09 51.93 199.28 52.50 199.59 55.00 C199.90 57.50 200.27 61.67 200.67 65.00 C201.06 68.33 201.60 72.17 201.96 75.00 C202.32 77.83 202.61 80.17 202.83 82.00 C203.04 83.83 203.28 84.67 203.25 86.00 C203.22 87.33 202.95 88.50 202.65 90.00 C202.35 91.50 201.91 93.33 201.45 95.00 C200.99 96.67 200.30 98.67 199.89 100.00 C199.48 101.33 199.25 101.83 198.99 103.00 C198.73 104.17 198.51 105.75 198.33 107.00 C198.15 108.25 197.98 109.92 197.91 110.50 L197.91 110.50 C197.84 109.92 197.67 108.25 197.49 107.00 C197.31 105.75 197.09 104.17 196.83 103.00 C196.57 101.83 196.34 101.33 195.93 100.00 C195.52 98.67 194.83 96.67 194.37 95.00 C193.91 93.33 193.47 91.50 193.17 90.00 C192.87 88.50 192.60 87.33 192.57 86.00 C192.54 84.67 192.77 83.83 192.99 82.00 C193.20 80.17 193.50 77.83 193.86 75.00 C194.22 72.17 194.75 68.33 195.15 65.00 C195.54 61.67 195.92 57.50 196.23 55.00 C196.54 52.50 196.73 51.93 197.01 50.00 C197.29 48.07 197.76 44.50 197.91 43.40 Z" fill="#babdec" fill-opacity="0.35"/>
<line x1="197.91" y1="45.40" x2="197.91" y2="108.50" stroke="#dedff6" stroke-width="0.45"/>
<rect x="195.81" y="72.70" width="4.20" height="15.90" fill="#4d54ad" stroke="#c6c9f0" stroke-width="0.6"/>
<line x1="195.81" y1="83.60" x2="200.01" y2="83.60" stroke="#ffffff" stroke-width="0.9"/>
<path d="M241.35 48.00 C241.65 49.17 242.61 52.17 243.15 55.00 C243.68 57.83 244.08 61.67 244.55 65.00 C245.01 68.33 245.60 71.67 245.95 75.00 C246.30 78.33 246.61 81.67 246.65 85.00 C246.68 88.33 246.55 91.67 246.15 95.00 C245.75 98.33 244.83 102.17 244.25 105.00 C243.66 107.83 243.13 110.08 242.65 112.00 C242.16 113.92 241.56 115.75 241.35 116.50 L241.35 116.50 C241.13 115.75 240.53 113.92 240.05 112.00 C239.56 110.08 239.03 107.83 238.45 105.00 C237.86 102.17 236.95 98.33 236.55 95.00 C236.15 91.67 236.01 88.33 236.05 85.00 C236.08 81.67 236.40 78.33 236.75 75.00 C237.10 71.67 237.68 68.33 238.15 65.00 C238.61 61.67 239.01 57.83 239.55 55.00 C240.08 52.17 241.05 49.17 241.35 48.00 Z" fill="#d09a6f" stroke="#c47e5a" stroke-width="0.5"/>
<path d="M241.35 48.00 C241.53 49.17 242.11 52.17 242.43 55.00 C242.75 57.83 242.99 61.67 243.27 65.00 C243.55 68.33 243.90 71.67 244.11 75.00 C244.32 78.33 244.51 81.67 244.53 85.00 C244.55 88.33 244.47 91.67 244.23 95.00 C243.99 98.33 243.44 102.17 243.09 105.00 C242.74 107.83 242.42 110.08 242.13 112.00 C241.84 113.92 241.48 115.75 241.35 116.50 L241.35 116.50 C241.22 115.75 240.86 113.92 240.57 112.00 C240.28 110.08 239.96 107.83 239.61 105.00 C239.26 102.17 238.71 98.33 238.47 95.00 C238.23 91.67 238.15 88.33 238.17 85.00 C238.19 81.67 238.38 78.33 238.59 75.00 C238.80 71.67 239.15 68.33 239.43 65.00 C239.71 61.67 239.95 57.83 240.27 55.00 C240.59 52.17 241.17 49.17 241.35 48.00 Z" fill="#e6b896" fill-opacity="0.35"/>
<line x1="241.35" y1="50.00" x2="241.35" y2="114.50" stroke="#f2cdb0" stroke-width="0.45"/>
<rect x="239.25" y="75.70" width="4.20" height="19.70" fill="#b23828" stroke="#f0a48a" stroke-width="0.6"/>
<line x1="239.25" y1="85.30" x2="243.45" y2="85.30" stroke="#ffffff" stroke-width="0.9"/>
<path d="M264.75 71.20 C265.05 71.83 265.95 73.53 266.55 75.00 C267.15 76.47 267.74 78.33 268.35 80.00 C268.97 81.67 269.64 83.33 270.25 85.00 C270.87 86.67 271.57 88.33 272.05 90.00 C272.54 91.67 273.34 93.33 273.15 95.00 C272.97 96.67 271.84 98.33 270.95 100.00 C270.07 101.67 268.58 103.33 267.85 105.00 C267.13 106.67 266.89 107.83 266.60 110.00 C266.32 112.17 266.24 115.50 266.15 118.00 C266.07 120.50 266.19 122.17 266.10 125.00 C266.02 127.83 265.88 132.27 265.65 135.00 C265.43 137.73 264.90 140.33 264.75 141.40 L264.75 141.40 C264.60 140.33 264.08 137.73 263.85 135.00 C263.63 132.27 263.49 127.83 263.40 125.00 C263.32 122.17 263.44 120.50 263.35 118.00 C263.27 115.50 263.19 112.17 262.90 110.00 C262.62 107.83 262.38 106.67 261.65 105.00 C260.93 103.33 259.44 101.67 258.55 100.00 C257.67 98.33 256.54 96.67 256.35 95.00 C256.17 93.33 256.97 91.67 257.45 90.00 C257.94 88.33 258.64 86.67 259.25 85.00 C259.87 83.33 260.54 81.67 261.15 80.00 C261.77 78.33 262.35 76.47 262.95 75.00 C263.55 73.53 264.45 71.83 264.75 71.20 Z" fill="#9da0dc" stroke="#8387cf" stroke-width="0.5"/>
<path d="M264.75 71.20 C264.93 71.83 265.47 73.53 265.83 75.00 C266.19 76.47 266.54 78.33 266.91 80.00 C267.28 81.67 267.68 83.33 268.05 85.00 C268.42 86.67 268.84 88.33 269.13 90.00 C269.42 91.67 269.90 93.33 269.79 95.00 C269.68 96.67 269.00 98.33 268.47 100.00 C267.94 101.67 267.05 103.33 266.61 105.00 C266.18 106.67 266.03 107.83 265.86 110.00 C265.69 112.17 265.64 115.50 265.59 118.00 C265.54 120.50 265.61 122.17 265.56 125.00 C265.51 127.83 265.43 132.27 265.29 135.00 C265.16 137.73 264.84 140.33 264.75 141.40 L264.75 141.40 C264.66 140.33 264.35 137.73 264.21 135.00 C264.08 132.27 263.99 127.83 263.94 125.00 C263.89 122.17 263.96 120.50 263.91 118.00 C263.86 115.50 263.81 112.17 263.64 110.00 C263.47 107.83 263.33 106.67 262.89 105.00 C262.46 103.33 261.56 101.67 261.03 100.00 C260.50 98.33 259.82 96.67 259.71 95.00 C259.60 93.33 260.08 91.67 260.37 90.00 C260.66 88.33 261.08 86.67 261.45 85.00 C261.82 83.33 262.22 81.67 262.59 80.00 C262.96 78.33 263.31 76.47 263.67 75.00 C264.03 73.53 264.57 71.83 264.75 71.20 Z" fill="#babdec" fill-opacity="0.35"/>
<line x1="264.75" y1="73.20" x2="264.75" y2="139.40" stroke="#dedff6" stroke-width="0.45"/>
<rect x="262.65" y="92.60" width="4.20" height="11.60" fill="#4d54ad" stroke="#c6c9f0" stroke-width="0.6"/>
<line x1="262.65" y1="95.80" x2="266.85" y2="95.80" stroke="#ffffff" stroke-width="0.9"/>
<circle cx="264.75" cy="132.20" r="0.7" fill="#ffffff"/>
<path d="M308.46 59.40 C308.66 59.67 309.08 60.40 309.66 61.00 C310.25 61.60 311.20 62.33 311.96 63.00 C312.73 63.67 313.58 64.33 314.26 65.00 C314.95 65.67 315.65 66.33 316.06 67.00 C316.48 67.67 316.71 68.17 316.76 69.00 C316.81 69.83 316.65 70.83 316.36 72.00 C316.08 73.17 315.53 74.67 315.06 76.00 C314.60 77.33 314.13 78.67 313.56 80.00 C313.00 81.33 312.25 82.83 311.66 84.00 C311.08 85.17 310.60 86.10 310.06 87.00 C309.53 87.90 308.73 89.00 308.46 89.40 L308.46 89.40 C308.20 89.00 307.40 87.90 306.86 87.00 C306.33 86.10 305.85 85.17 305.26 84.00 C304.68 82.83 303.93 81.33 303.36 80.00 C302.80 78.67 302.33 77.33 301.86 76.00 C301.40 74.67 300.85 73.17 300.56 72.00 C300.28 70.83 300.11 69.83 300.16 69.00 C300.21 68.17 300.45 67.67 300.86 67.00 C301.28 66.33 301.98 65.67 302.66 65.00 C303.35 64.33 304.20 63.67 304.96 63.00 C305.73 62.33 306.68 61.60 307.26 61.00 C307.85 60.40 308.26 59.67 308.46 59.40 Z" fill="#d09a6f" stroke="#c47e5a" stroke-width="0.5"/>
<path d="M308.46 59.40 C308.58 59.67 308.83 60.40 309.18 61.00 C309.53 61.60 310.10 62.33 310.56 63.00 C311.02 63.67 311.53 64.33 311.94 65.00 C312.35 65.67 312.77 66.33 313.02 67.00 C313.27 67.67 313.41 68.17 313.44 69.00 C313.47 69.83 313.37 70.83 313.20 72.00 C313.03 73.17 312.70 74.67 312.42 76.00 C312.14 77.33 311.86 78.67 311.52 80.00 C311.18 81.33 310.73 82.83 310.38 84.00 C310.03 85.17 309.74 86.10 309.42 87.00 C309.10 87.90 308.62 89.00 308.46 89.40 L308.46 89.40 C308.30 89.00 307.82 87.90 307.50 87.00 C307.18 86.10 306.89 85.17 306.54 84.00 C306.19 82.83 305.74 81.33 305.40 80.00 C305.06 78.67 304.78 77.33 304.50 76.00 C304.22 74.67 303.89 73.17 303.72 72.00 C303.55 70.83 303.45 69.83 303.48 69.00 C303.51 68.17 303.65 67.67 303.90 67.00 C304.15 66.33 304.57 65.67 304.98 65.00 C305.39 64.33 305.90 63.67 306.36 63.00 C306.82 62.33 307.39 61.60 307.74 61.00 C308.09 60.40 308.34 59.67 308.46 59.40 Z" fill="#e6b896" fill-opacity="0.35"/>
<line x1="308.46" y1="61.40" x2="308.46" y2="87.40" stroke="#f2cdb0" stroke-width="0.45"/>
<rect x="306.36" y="70.00" width="4.20" height="5.90" fill="#b23828" stroke="#f0a48a" stroke-width="0.6"/>
<line x1="306.36" y1="73.00" x2="310.56" y2="73.00" stroke="#ffffff" stroke-width="0.9"/>
<path d="M331.74 47.50 C331.89 48.75 332.39 52.08 332.64 55.00 C332.89 57.92 333.05 62.17 333.24 65.00 C333.42 67.83 333.49 70.00 333.74 72.00 C333.99 74.00 334.52 75.67 334.74 77.00 C334.95 78.33 334.94 78.67 335.04 80.00 C335.14 81.33 335.29 83.33 335.34 85.00 C335.39 86.67 335.44 88.33 335.34 90.00 C335.24 91.67 334.94 93.83 334.74 95.00 C334.54 96.17 334.34 96.17 334.14 97.00 C333.94 97.83 333.71 97.83 333.54 100.00 C333.36 102.17 333.18 105.83 333.09 110.00 C332.99 114.17 333.06 120.83 332.99 125.00 C332.91 129.17 332.84 132.37 332.64 135.00 C332.43 137.63 331.89 139.83 331.74 140.80 L331.74 140.80 C331.59 139.83 331.04 137.63 330.84 135.00 C330.63 132.37 330.56 129.17 330.49 125.00 C330.41 120.83 330.48 114.17 330.39 110.00 C330.29 105.83 330.11 102.17 329.94 100.00 C329.76 97.83 329.54 97.83 329.34 97.00 C329.14 96.17 328.94 96.17 328.74 95.00 C328.54 93.83 328.24 91.67 328.14 90.00 C328.04 88.33 328.09 86.67 328.14 85.00 C328.19 83.33 328.34 81.33 328.44 80.00 C328.54 78.67 328.52 78.33 328.74 77.00 C328.95 75.67 329.49 74.00 329.74 72.00 C329.99 70.00 330.05 67.83 330.24 65.00 C330.42 62.17 330.59 57.92 330.84 55.00 C331.09 52.08 331.59 48.75 331.74 47.50 Z" fill="#9da0dc" stroke="#8387cf" stroke-width="0.5"/>
<path d="M331.74 47.50 C331.83 48.75 332.13 52.08 332.28 55.00 C332.43 57.92 332.53 62.17 332.64 65.00 C332.75 67.83 332.79 70.00 332.94 72.00 C333.09 74.00 333.41 75.67 333.54 77.00 C333.67 78.33 333.66 78.67 333.72 80.00 C333.78 81.33 333.87 83.33 333.90 85.00 C333.93 86.67 333.96 88.33 333.90 90.00 C333.84 91.67 333.66 93.83 333.54 95.00 C333.42 96.17 333.30 96.17 333.18 97.00 C333.06 97.83 332.92 97.83 332.82 100.00 C332.71 102.17 332.60 105.83 332.55 110.00 C332.49 114.17 332.53 120.83 332.49 125.00 C332.44 129.17 332.40 132.37 332.28 135.00 C332.15 137.63 331.83 139.83 331.74 140.80 L331.74 140.80 C331.65 139.83 331.32 137.63 331.20 135.00 C331.07 132.37 331.03 129.17 330.99 125.00 C330.94 120.83 330.98 114.17 330.93 110.00 C330.87 105.83 330.76 102.17 330.66 100.00 C330.55 97.83 330.42 97.83 330.30 97.00 C330.18 96.17 330.06 96.17 329.94 95.00 C329.82 93.83 329.64 91.67 329.58 90.00 C329.52 88.33 329.55 86.67 329.58 85.00 C329.61 83.33 329.70 81.33 329.76 80.00 C329.82 78.67 329.81 78.33 329.94 77.00 C330.07 75.67 330.39 74.00 330.54 72.00 C330.69 70.00 330.73 67.83 330.84 65.00 C330.95 62.17 331.05 57.92 331.20 55.00 C331.35 52.08 331.65 48.75 331.74 47.50 Z" fill="#babdec" fill-opacity="0.35"/>
<line x1="331.74" y1="49.50" x2="331.74" y2="138.80" stroke="#dedff6" stroke-width="0.45"/>
<rect x="329.64" y="79.70" width="4.20" height="17.00" fill="#4d54ad" stroke="#c6c9f0" stroke-width="0.6"/>
<line x1="329.64" y1="88.30" x2="333.84" y2="88.30" stroke="#ffffff" stroke-width="0.9"/>
<circle cx="331.74" cy="128.20" r="0.7" fill="#ffffff"/>
<rect x="38.10" y="224.00" width="1.4" height="42.00" fill="#d48f5c" fill-opacity="0.12"/>
<rect x="38.00" y="224.35" width="1.6" height="1.3" fill="#d48f5c" fill-opacity="0.30"/>
<rect x="38.00" y="227.35" width="1.6" height="1.3" fill="#d48f5c" fill-opacity="0.30"/>
<rect x="38.00" y="249.15" width="1.6" height="1.3" fill="#d48f5c" fill-opacity="0.50"/>
<rect x="38.00" y="253.25" width="1.6" height="1.3" fill="#d48f5c" fill-opacity="0.50"/>
<rect x="38.00" y="259.35" width="1.6" height="1.3" fill="#d48f5c" fill-opacity="0.45"/>
<rect x="38.00" y="263.85" width="1.6" height="1.3" fill="#d48f5c" fill-opacity="0.50"/>
<rect x="38.00" y="266.85" width="1.6" height="1.3" fill="#d48f5c" fill-opacity="0.50"/>
<rect x="62.10" y="224.00" width="1.4" height="34.00" fill="#8a8fd6" fill-opacity="0.25"/>
<rect x="62.00" y="225.35" width="1.6" height="1.3" fill="#8a8fd6" fill-opacity="0.40"/>
<rect x="62.00" y="231.35" width="1.6" height="1.3" fill="#8a8fd6" fill-opacity="0.40"/>
<rect x="62.00" y="237.35" width="1.6" height="1.3" fill="#8a8fd6" fill-opacity="0.45"/>
<rect x="62.00" y="243.35" width="1.6" height="1.3" fill="#8a8fd6" fill-opacity="0.70"/>
<rect x="62.00" y="249.35" width="1.6" height="1.3" fill="#8a8fd6" fill-opacity="0.70"/>
<rect x="62.00" y="254.35" width="1.6" height="1.3" fill="#8a8fd6" fill-opacity="0.70"/>
<path d="M38.80 266.00 C38.90 266.67 39.20 268.75 39.40 270.00 C39.60 271.25 39.73 272.50 40.00 273.50 C40.27 274.50 40.55 274.92 41.05 276.00 C41.55 277.08 42.27 278.50 43.00 280.00 C43.73 281.50 44.80 283.33 45.40 285.00 C46.00 286.67 46.43 288.33 46.60 290.00 C46.77 291.67 46.70 293.33 46.40 295.00 C46.10 296.67 45.40 298.67 44.80 300.00 C44.20 301.33 43.50 302.00 42.80 303.00 C42.10 304.00 41.27 305.07 40.60 306.00 C39.93 306.93 39.10 308.17 38.80 308.60 L38.80 308.60 C38.50 308.17 37.67 306.93 37.00 306.00 C36.33 305.07 35.50 304.00 34.80 303.00 C34.10 302.00 33.40 301.33 32.80 300.00 C32.20 298.67 31.50 296.67 31.20 295.00 C30.90 293.33 30.83 291.67 31.00 290.00 C31.17 288.33 31.60 286.67 32.20 285.00 C32.80 283.33 33.87 281.50 34.60 280.00 C35.32 278.50 36.05 277.08 36.55 276.00 C37.05 274.92 37.32 274.50 37.60 273.50 C37.87 272.50 38.00 271.25 38.20 270.00 C38.40 268.75 38.70 266.67 38.80 266.00 Z" fill="#d09a6f" stroke="#c47e5a" stroke-width="0.5"/>
<path d="M38.80 266.00 C38.86 266.67 39.04 268.75 39.16 270.00 C39.28 271.25 39.35 272.50 39.52 273.50 C39.68 274.50 39.85 274.92 40.15 276.00 C40.45 277.08 40.88 278.50 41.32 280.00 C41.76 281.50 42.40 283.33 42.76 285.00 C43.12 286.67 43.38 288.33 43.48 290.00 C43.58 291.67 43.54 293.33 43.36 295.00 C43.18 296.67 42.76 298.67 42.40 300.00 C42.04 301.33 41.62 302.00 41.20 303.00 C40.78 304.00 40.28 305.07 39.88 306.00 C39.48 306.93 38.98 308.17 38.80 308.60 L38.80 308.60 C38.62 308.17 38.12 306.93 37.72 306.00 C37.32 305.07 36.82 304.00 36.40 303.00 C35.98 302.00 35.56 301.33 35.20 300.00 C34.84 298.67 34.42 296.67 34.24 295.00 C34.06 293.33 34.02 291.67 34.12 290.00 C34.22 288.33 34.48 286.67 34.84 285.00 C35.20 283.33 35.84 281.50 36.28 280.00 C36.71 278.50 37.15 277.08 37.45 276.00 C37.75 274.92 37.91 274.50 38.08 273.50 C38.24 272.50 38.32 271.25 38.44 270.00 C38.56 268.75 38.74 266.67 38.80 266.00 Z" fill="#e6b896" fill-opacity="0.35"/>
<line x1="38.80" y1="268.00" x2="38.80" y2="306.60" stroke="#f2cdb0" stroke-width="0.45"/>
<rect x="36.70" y="287.00" width="4.20" height="9.00" fill="#b23828" stroke="#f0a48a" stroke-width="0.6"/>
<line x1="36.70" y1="291.70" x2="40.90" y2="291.70" stroke="#ffffff" stroke-width="0.9"/>
<path d="M62.80 255.00 C62.93 256.30 63.28 260.63 63.60 262.80 C63.92 264.97 64.32 265.97 64.75 268.00 C65.18 270.03 65.79 273.00 66.20 275.00 C66.61 277.00 66.90 278.00 67.20 280.00 C67.50 282.00 67.87 284.83 68.00 287.00 C68.13 289.17 68.25 290.83 68.00 293.00 C67.75 295.17 67.01 298.00 66.50 300.00 C65.99 302.00 65.40 303.33 64.95 305.00 C64.50 306.67 64.16 308.40 63.80 310.00 C63.44 311.60 62.97 313.83 62.80 314.60 L62.80 314.60 C62.63 313.83 62.16 311.60 61.80 310.00 C61.44 308.40 61.10 306.67 60.65 305.00 C60.20 303.33 59.61 302.00 59.10 300.00 C58.59 298.00 57.85 295.17 57.60 293.00 C57.35 290.83 57.47 289.17 57.60 287.00 C57.73 284.83 58.10 282.00 58.40 280.00 C58.70 278.00 58.99 277.00 59.40 275.00 C59.81 273.00 60.42 270.03 60.85 268.00 C61.28 265.97 61.68 264.97 62.00 262.80 C62.33 260.63 62.67 256.30 62.80 255.00 Z" fill="#9da0dc" stroke="#8387cf" stroke-width="0.5"/>
<path d="M62.80 255.00 C62.88 256.30 63.09 260.63 63.28 262.80 C63.48 264.97 63.71 265.97 63.97 268.00 C64.23 270.03 64.59 273.00 64.84 275.00 C65.09 277.00 65.26 278.00 65.44 280.00 C65.62 282.00 65.84 284.83 65.92 287.00 C66.00 289.17 66.07 290.83 65.92 293.00 C65.77 295.17 65.33 298.00 65.02 300.00 C64.72 302.00 64.36 303.33 64.09 305.00 C63.82 306.67 63.62 308.40 63.40 310.00 C63.19 311.60 62.90 313.83 62.80 314.60 L62.80 314.60 C62.70 313.83 62.42 311.60 62.20 310.00 C61.98 308.40 61.78 306.67 61.51 305.00 C61.24 303.33 60.89 302.00 60.58 300.00 C60.28 298.00 59.83 295.17 59.68 293.00 C59.53 290.83 59.60 289.17 59.68 287.00 C59.76 284.83 59.98 282.00 60.16 280.00 C60.34 278.00 60.52 277.00 60.76 275.00 C61.01 273.00 61.37 270.03 61.63 268.00 C61.89 265.97 62.13 264.97 62.32 262.80 C62.52 260.63 62.72 256.30 62.80 255.00 Z" fill="#babdec" fill-opacity="0.35"/>
<line x1="62.80" y1="257.00" x2="62.80" y2="312.60" stroke="#dedff6" stroke-width="0.45"/>
<rect x="60.70" y="279.40" width="4.20" height="15.60" fill="#4d54ad" stroke="#c6c9f0" stroke-width="0.6"/>
<line x1="60.70" y1="287.20" x2="64.90" y2="287.20" stroke="#ffffff" stroke-width="0.9"/>
<rect x="130.57" y="255.75" width="1.6" height="1.3" fill="#8a8fd6" fill-opacity="0.80"/>
<rect x="130.57" y="258.65" width="1.6" height="1.3" fill="#8a8fd6" fill-opacity="0.80"/>
<rect x="130.57" y="261.35" width="1.6" height="1.3" fill="#8a8fd6" fill-opacity="0.80"/>
<rect x="130.57" y="264.35" width="1.6" height="1.3" fill="#8a8fd6" fill-opacity="0.80"/>
<rect x="130.57" y="268.05" width="1.6" height="1.3" fill="#8a8fd6" fill-opacity="0.80"/>
<rect x="130.57" y="271.85" width="1.6" height="1.3" fill="#8a8fd6" fill-opacity="0.80"/>
<rect x="106.53" y="247.35" width="1.6" height="1.3" fill="#d48f5c" fill-opacity="0.50"/>
<path d="M107.33 216.70 C107.79 217.25 109.11 218.78 110.13 220.00 C111.14 221.22 112.44 222.67 113.43 224.00 C114.41 225.33 115.66 226.83 116.03 228.00 C116.39 229.17 116.18 229.83 115.63 231.00 C115.08 232.17 113.64 233.83 112.73 235.00 C111.81 236.17 110.83 237.00 110.13 238.00 C109.43 239.00 108.99 240.13 108.53 241.00 C108.06 241.87 107.53 242.83 107.33 243.20 L107.33 243.20 C107.13 242.83 106.59 241.87 106.13 241.00 C105.66 240.13 105.23 239.00 104.53 238.00 C103.83 237.00 102.84 236.17 101.93 235.00 C101.01 233.83 99.58 232.17 99.03 231.00 C98.48 229.83 98.26 229.17 98.63 228.00 C98.99 226.83 100.24 225.33 101.23 224.00 C102.21 222.67 103.51 221.22 104.53 220.00 C105.54 218.78 106.86 217.25 107.33 216.70 Z" fill="#d09a6f" stroke="#c47e5a" stroke-width="0.5"/>
<path d="M107.33 216.70 C107.61 217.25 108.40 218.78 109.01 220.00 C109.62 221.22 110.40 222.67 110.99 224.00 C111.58 225.33 112.33 226.83 112.55 228.00 C112.77 229.17 112.64 229.83 112.31 231.00 C111.98 232.17 111.12 233.83 110.57 235.00 C110.02 236.17 109.43 237.00 109.01 238.00 C108.59 239.00 108.33 240.13 108.05 241.00 C107.77 241.87 107.45 242.83 107.33 243.20 L107.33 243.20 C107.21 242.83 106.89 241.87 106.61 241.00 C106.33 240.13 106.07 239.00 105.65 238.00 C105.23 237.00 104.64 236.17 104.09 235.00 C103.54 233.83 102.68 232.17 102.35 231.00 C102.02 229.83 101.89 229.17 102.11 228.00 C102.33 226.83 103.08 225.33 103.67 224.00 C104.26 222.67 105.04 221.22 105.65 220.00 C106.26 218.78 107.05 217.25 107.33 216.70 Z" fill="#e6b896" fill-opacity="0.35"/>
<line x1="107.33" y1="218.70" x2="107.33" y2="241.20" stroke="#f2cdb0" stroke-width="0.45"/>
<rect x="105.23" y="225.20" width="4.20" height="8.00" fill="#b23828" stroke="#f0a48a" stroke-width="0.6"/>
<line x1="105.23" y1="229.40" x2="109.43" y2="229.40" stroke="#ffffff" stroke-width="0.9"/>
<path d="M131.37 218.90 C131.57 219.42 132.14 220.98 132.57 222.00 C133.01 223.02 133.37 223.67 133.97 225.00 C134.57 226.33 135.64 228.33 136.17 230.00 C136.71 231.67 137.06 233.33 137.17 235.00 C137.29 236.67 137.19 238.33 136.87 240.00 C136.56 241.67 135.91 243.33 135.27 245.00 C134.64 246.67 133.62 248.50 133.07 250.00 C132.52 251.50 132.26 253.00 131.97 254.00 C131.69 255.00 131.47 255.67 131.37 256.00 L131.37 256.00 C131.27 255.67 131.06 255.00 130.77 254.00 C130.49 253.00 130.22 251.50 129.67 250.00 C129.12 248.50 128.11 246.67 127.47 245.00 C126.84 243.33 126.19 241.67 125.87 240.00 C125.56 238.33 125.46 236.67 125.57 235.00 C125.69 233.33 126.04 231.67 126.57 230.00 C127.11 228.33 128.17 226.33 128.77 225.00 C129.37 223.67 129.74 223.02 130.17 222.00 C130.61 220.98 131.17 219.42 131.37 218.90 Z" fill="#9da0dc" stroke="#8387cf" stroke-width="0.5"/>
<path d="M131.37 218.90 C131.49 219.42 131.83 220.98 132.09 222.00 C132.35 223.02 132.57 223.67 132.93 225.00 C133.29 226.33 133.93 228.33 134.25 230.00 C134.57 231.67 134.78 233.33 134.85 235.00 C134.92 236.67 134.86 238.33 134.67 240.00 C134.48 241.67 134.09 243.33 133.71 245.00 C133.33 246.67 132.72 248.50 132.39 250.00 C132.06 251.50 131.90 253.00 131.73 254.00 C131.56 255.00 131.43 255.67 131.37 256.00 L131.37 256.00 C131.31 255.67 131.18 255.00 131.01 254.00 C130.84 253.00 130.68 251.50 130.35 250.00 C130.02 248.50 129.41 246.67 129.03 245.00 C128.65 243.33 128.26 241.67 128.07 240.00 C127.88 238.33 127.82 236.67 127.89 235.00 C127.96 233.33 128.17 231.67 128.49 230.00 C128.81 228.33 129.45 226.33 129.81 225.00 C130.17 223.67 130.39 223.02 130.65 222.00 C130.91 220.98 131.25 219.42 131.37 218.90 Z" fill="#babdec" fill-opacity="0.35"/>
<line x1="131.37" y1="220.90" x2="131.37" y2="254.00" stroke="#dedff6" stroke-width="0.45"/>
<rect x="129.27" y="232.40" width="4.20" height="10.00" fill="#4d54ad" stroke="#c6c9f0" stroke-width="0.6"/>
<line x1="129.27" y1="237.00" x2="133.47" y2="237.00" stroke="#ffffff" stroke-width="0.9"/>
<rect x="197.59" y="222.05" width="1.6" height="1.3" fill="#6a6fb0" fill-opacity="0.70"/>
<rect x="197.59" y="226.65" width="1.6" height="1.3" fill="#6a6fb0" fill-opacity="0.80"/>
<rect x="197.59" y="230.65" width="1.6" height="1.3" fill="#6a6fb0" fill-opacity="0.70"/>
<rect x="197.69" y="258.00" width="1.4" height="10.00" fill="#8a8fd6" fill-opacity="0.15"/>
<rect x="197.59" y="259.35" width="1.6" height="1.3" fill="#8a8fd6" fill-opacity="0.40"/>
<rect x="197.59" y="263.35" width="1.6" height="1.3" fill="#8a8fd6" fill-opacity="0.40"/>
<rect x="174.01" y="245.00" width="1.4" height="17.00" fill="#d48f5c" fill-opacity="0.12"/>
<rect x="173.91" y="248.55" width="1.6" height="1.3" fill="#d48f5c" fill-opacity="0.35"/>
<rect x="173.91" y="253.75" width="1.6" height="1.3" fill="#d48f5c" fill-opacity="0.60"/>
<rect x="173.91" y="256.85" width="1.6" height="1.3" fill="#d48f5c" fill-opacity="0.60"/>
<rect x="173.91" y="260.55" width="1.6" height="1.3" fill="#d48f5c" fill-opacity="0.50"/>
<path d="M174.71 262.00 C174.79 262.67 175.06 264.67 175.21 266.00 C175.36 267.33 175.44 268.50 175.61 270.00 C175.78 271.50 175.93 273.33 176.21 275.00 C176.49 276.67 176.93 278.33 177.31 280.00 C177.69 281.67 178.14 283.33 178.51 285.00 C178.88 286.67 179.14 288.33 179.51 290.00 C179.88 291.67 180.41 293.67 180.71 295.00 C181.01 296.33 181.43 296.83 181.31 298.00 C181.19 299.17 180.58 300.67 180.01 302.00 C179.44 303.33 178.54 304.67 177.91 306.00 C177.28 307.33 176.74 308.83 176.21 310.00 C175.68 311.17 174.96 312.50 174.71 313.00 L174.71 313.00 C174.46 312.50 173.74 311.17 173.21 310.00 C172.68 308.83 172.14 307.33 171.51 306.00 C170.88 304.67 169.98 303.33 169.41 302.00 C168.84 300.67 168.23 299.17 168.11 298.00 C167.99 296.83 168.41 296.33 168.71 295.00 C169.01 293.67 169.54 291.67 169.91 290.00 C170.28 288.33 170.54 286.67 170.91 285.00 C171.28 283.33 171.73 281.67 172.11 280.00 C172.49 278.33 172.93 276.67 173.21 275.00 C173.49 273.33 173.64 271.50 173.81 270.00 C173.98 268.50 174.06 267.33 174.21 266.00 C174.36 264.67 174.63 262.67 174.71 262.00 Z" fill="#d09a6f" stroke="#c47e5a" stroke-width="0.5"/>
<path d="M174.71 262.00 C174.76 262.67 174.92 264.67 175.01 266.00 C175.10 267.33 175.15 268.50 175.25 270.00 C175.35 271.50 175.44 273.33 175.61 275.00 C175.78 276.67 176.04 278.33 176.27 280.00 C176.50 281.67 176.77 283.33 176.99 285.00 C177.21 286.67 177.37 288.33 177.59 290.00 C177.81 291.67 178.13 293.67 178.31 295.00 C178.49 296.33 178.74 296.83 178.67 298.00 C178.60 299.17 178.23 300.67 177.89 302.00 C177.55 303.33 177.01 304.67 176.63 306.00 C176.25 307.33 175.93 308.83 175.61 310.00 C175.29 311.17 174.86 312.50 174.71 313.00 L174.71 313.00 C174.56 312.50 174.13 311.17 173.81 310.00 C173.49 308.83 173.17 307.33 172.79 306.00 C172.41 304.67 171.87 303.33 171.53 302.00 C171.19 300.67 170.82 299.17 170.75 298.00 C170.68 296.83 170.93 296.33 171.11 295.00 C171.29 293.67 171.61 291.67 171.83 290.00 C172.05 288.33 172.21 286.67 172.43 285.00 C172.65 283.33 172.92 281.67 173.15 280.00 C173.38 278.33 173.64 276.67 173.81 275.00 C173.98 273.33 174.07 271.50 174.17 270.00 C174.27 268.50 174.32 267.33 174.41 266.00 C174.50 264.67 174.66 262.67 174.71 262.00 Z" fill="#e6b896" fill-opacity="0.35"/>
<line x1="174.71" y1="264.00" x2="174.71" y2="311.00" stroke="#f2cdb0" stroke-width="0.45"/>
<rect x="172.61" y="284.20" width="4.20" height="16.10" fill="#b23828" stroke="#f0a48a" stroke-width="0.6"/>
<line x1="172.61" y1="295.80" x2="176.81" y2="295.80" stroke="#ffffff" stroke-width="0.9"/>
<path d="M198.39 265.00 C198.49 265.83 198.82 268.33 198.99 270.00 C199.16 271.67 199.22 273.33 199.39 275.00 C199.56 276.67 199.67 278.33 199.99 280.00 C200.31 281.67 200.76 283.33 201.29 285.00 C201.82 286.67 202.44 288.33 203.19 290.00 C203.94 291.67 205.12 293.67 205.79 295.00 C206.46 296.33 207.27 296.83 207.19 298.00 C207.11 299.17 206.06 300.67 205.29 302.00 C204.52 303.33 203.36 304.67 202.59 306.00 C201.82 307.33 201.24 308.67 200.69 310.00 C200.14 311.33 199.67 312.83 199.29 314.00 C198.91 315.17 198.54 316.50 198.39 317.00 L198.39 317.00 C198.24 316.50 197.87 315.17 197.49 314.00 C197.11 312.83 196.64 311.33 196.09 310.00 C195.54 308.67 194.96 307.33 194.19 306.00 C193.42 304.67 192.26 303.33 191.49 302.00 C190.72 300.67 189.67 299.17 189.59 298.00 C189.51 296.83 190.32 296.33 190.99 295.00 C191.66 293.67 192.84 291.67 193.59 290.00 C194.34 288.33 194.96 286.67 195.49 285.00 C196.02 283.33 196.47 281.67 196.79 280.00 C197.11 278.33 197.22 276.67 197.39 275.00 C197.56 273.33 197.62 271.67 197.79 270.00 C197.96 268.33 198.29 265.83 198.39 265.00 Z" fill="#9da0dc" stroke="#8387cf" stroke-width="0.5"/>
<path d="M198.39 265.00 C198.45 265.83 198.65 268.33 198.75 270.00 C198.85 271.67 198.89 273.33 198.99 275.00 C199.09 276.67 199.16 278.33 199.35 280.00 C199.54 281.67 199.81 283.33 200.13 285.00 C200.45 286.67 200.82 288.33 201.27 290.00 C201.72 291.67 202.43 293.67 202.83 295.00 C203.23 296.33 203.72 296.83 203.67 298.00 C203.62 299.17 202.99 300.67 202.53 302.00 C202.07 303.33 201.37 304.67 200.91 306.00 C200.45 307.33 200.10 308.67 199.77 310.00 C199.44 311.33 199.16 312.83 198.93 314.00 C198.70 315.17 198.48 316.50 198.39 317.00 L198.39 317.00 C198.30 316.50 198.08 315.17 197.85 314.00 C197.62 312.83 197.34 311.33 197.01 310.00 C196.68 308.67 196.33 307.33 195.87 306.00 C195.41 304.67 194.71 303.33 194.25 302.00 C193.79 300.67 193.16 299.17 193.11 298.00 C193.06 296.83 193.55 296.33 193.95 295.00 C194.35 293.67 195.06 291.67 195.51 290.00 C195.96 288.33 196.33 286.67 196.65 285.00 C196.97 283.33 197.24 281.67 197.43 280.00 C197.62 278.33 197.69 276.67 197.79 275.00 C197.89 273.33 197.93 271.67 198.03 270.00 C198.13 268.33 198.33 265.83 198.39 265.00 Z" fill="#babdec" fill-opacity="0.35"/>
<line x1="198.39" y1="267.00" x2="198.39" y2="315.00" stroke="#dedff6" stroke-width="0.45"/>
<rect x="196.29" y="290.80" width="4.20" height="10.80" fill="#4d54ad" stroke="#c6c9f0" stroke-width="0.6"/>
<line x1="196.29" y1="299.00" x2="200.49" y2="299.00" stroke="#ffffff" stroke-width="0.9"/>
<rect x="263.65" y="222.50" width="1.4" height="33.50" fill="#8a8fd6" fill-opacity="0.20"/>
<rect x="263.55" y="225.35" width="1.6" height="1.3" fill="#8a8fd6" fill-opacity="0.40"/>
<rect x="263.55" y="232.35" width="1.6" height="1.3" fill="#8a8fd6" fill-opacity="0.40"/>
<rect x="263.55" y="239.35" width="1.6" height="1.3" fill="#8a8fd6" fill-opacity="0.40"/>
<rect x="263.55" y="245.35" width="1.6" height="1.3" fill="#8a8fd6" fill-opacity="0.40"/>
<path d="M240.75 240.20 C240.85 241.00 241.17 243.37 241.35 245.00 C241.54 246.63 241.67 248.33 241.85 250.00 C242.04 251.67 242.22 253.33 242.45 255.00 C242.69 256.67 242.99 258.33 243.25 260.00 C243.52 261.67 243.77 263.33 244.05 265.00 C244.34 266.67 244.67 268.33 244.95 270.00 C245.24 271.67 245.49 273.33 245.75 275.00 C246.02 276.67 246.34 278.33 246.55 280.00 C246.77 281.67 246.95 283.33 247.05 285.00 C247.15 286.67 247.29 288.33 247.15 290.00 C247.02 291.67 246.62 293.33 246.25 295.00 C245.89 296.67 245.40 298.33 244.95 300.00 C244.50 301.67 244.00 303.33 243.55 305.00 C243.10 306.67 242.60 308.50 242.25 310.00 C241.90 311.50 241.70 312.67 241.45 314.00 C241.20 315.33 240.87 317.33 240.75 318.00 L240.75 318.00 C240.64 317.33 240.30 315.33 240.05 314.00 C239.80 312.67 239.60 311.50 239.25 310.00 C238.90 308.50 238.40 306.67 237.95 305.00 C237.50 303.33 237.00 301.67 236.55 300.00 C236.10 298.33 235.62 296.67 235.25 295.00 C234.89 293.33 234.49 291.67 234.35 290.00 C234.22 288.33 234.35 286.67 234.45 285.00 C234.55 283.33 234.74 281.67 234.95 280.00 C235.17 278.33 235.49 276.67 235.75 275.00 C236.02 273.33 236.27 271.67 236.55 270.00 C236.84 268.33 237.17 266.67 237.45 265.00 C237.74 263.33 237.99 261.67 238.25 260.00 C238.52 258.33 238.82 256.67 239.05 255.00 C239.29 253.33 239.47 251.67 239.65 250.00 C239.84 248.33 239.97 246.63 240.15 245.00 C240.34 243.37 240.65 241.00 240.75 240.20 Z" fill="#d09a6f" stroke="#c47e5a" stroke-width="0.5"/>
<path d="M240.75 240.20 C240.81 241.00 241.00 243.37 241.11 245.00 C241.22 246.63 241.30 248.33 241.41 250.00 C241.52 251.67 241.63 253.33 241.77 255.00 C241.91 256.67 242.09 258.33 242.25 260.00 C242.41 261.67 242.56 263.33 242.73 265.00 C242.90 266.67 243.10 268.33 243.27 270.00 C243.44 271.67 243.59 273.33 243.75 275.00 C243.91 276.67 244.10 278.33 244.23 280.00 C244.36 281.67 244.47 283.33 244.53 285.00 C244.59 286.67 244.67 288.33 244.59 290.00 C244.51 291.67 244.27 293.33 244.05 295.00 C243.83 296.67 243.54 298.33 243.27 300.00 C243.00 301.67 242.70 303.33 242.43 305.00 C242.16 306.67 241.86 308.50 241.65 310.00 C241.44 311.50 241.32 312.67 241.17 314.00 C241.02 315.33 240.82 317.33 240.75 318.00 L240.75 318.00 C240.68 317.33 240.48 315.33 240.33 314.00 C240.18 312.67 240.06 311.50 239.85 310.00 C239.64 308.50 239.34 306.67 239.07 305.00 C238.80 303.33 238.50 301.67 238.23 300.00 C237.96 298.33 237.67 296.67 237.45 295.00 C237.23 293.33 236.99 291.67 236.91 290.00 C236.83 288.33 236.91 286.67 236.97 285.00 C237.03 283.33 237.14 281.67 237.27 280.00 C237.40 278.33 237.59 276.67 237.75 275.00 C237.91 273.33 238.06 271.67 238.23 270.00 C238.40 268.33 238.60 266.67 238.77 265.00 C238.94 263.33 239.09 261.67 239.25 260.00 C239.41 258.33 239.59 256.67 239.73 255.00 C239.87 253.33 239.98 251.67 240.09 250.00 C240.20 248.33 240.28 246.63 240.39 245.00 C240.50 243.37 240.69 241.00 240.75 240.20 Z" fill="#e6b896" fill-opacity="0.35"/>
<line x1="240.75" y1="242.20" x2="240.75" y2="316.00" stroke="#f2cdb0" stroke-width="0.45"/>
<rect x="238.65" y="275.50" width="4.20" height="19.50" fill="#b23828" stroke="#f0a48a" stroke-width="0.6"/>
<line x1="238.65" y1="286.00" x2="242.85" y2="286.00" stroke="#ffffff" stroke-width="0.9"/>
<path d="M264.35 250.00 C264.50 250.83 265.05 253.33 265.25 255.00 C265.45 256.67 265.38 258.33 265.55 260.00 C265.71 261.67 266.00 263.33 266.25 265.00 C266.50 266.67 266.73 268.33 267.05 270.00 C267.36 271.67 267.76 273.33 268.15 275.00 C268.53 276.67 268.95 278.33 269.35 280.00 C269.75 281.67 270.11 283.33 270.55 285.00 C270.98 286.67 271.60 288.67 271.95 290.00 C272.30 291.33 272.81 291.67 272.65 293.00 C272.48 294.33 271.63 296.33 270.95 298.00 C270.26 299.67 269.30 301.33 268.55 303.00 C267.80 304.67 267.00 306.50 266.45 308.00 C265.90 309.50 265.60 310.60 265.25 312.00 C264.90 313.40 264.50 315.67 264.35 316.40 L264.35 316.40 C264.20 315.67 263.80 313.40 263.45 312.00 C263.10 310.60 262.80 309.50 262.25 308.00 C261.70 306.50 260.90 304.67 260.15 303.00 C259.40 301.33 258.43 299.67 257.75 298.00 C257.06 296.33 256.21 294.33 256.05 293.00 C255.88 291.67 256.40 291.33 256.75 290.00 C257.10 288.67 257.71 286.67 258.15 285.00 C258.58 283.33 258.95 281.67 259.35 280.00 C259.75 278.33 260.16 276.67 260.55 275.00 C260.93 273.33 261.33 271.67 261.65 270.00 C261.96 268.33 262.20 266.67 262.45 265.00 C262.70 263.33 262.98 261.67 263.15 260.00 C263.31 258.33 263.25 256.67 263.45 255.00 C263.65 253.33 264.20 250.83 264.35 250.00 Z" fill="#9da0dc" stroke="#8387cf" stroke-width="0.5"/>
<path d="M264.35 250.00 C264.44 250.83 264.77 253.33 264.89 255.00 C265.01 256.67 264.97 258.33 265.07 260.00 C265.17 261.67 265.34 263.33 265.49 265.00 C265.64 266.67 265.78 268.33 265.97 270.00 C266.16 271.67 266.40 273.33 266.63 275.00 C266.86 276.67 267.11 278.33 267.35 280.00 C267.59 281.67 267.81 283.33 268.07 285.00 C268.33 286.67 268.70 288.67 268.91 290.00 C269.12 291.33 269.43 291.67 269.33 293.00 C269.23 294.33 268.72 296.33 268.31 298.00 C267.90 299.67 267.32 301.33 266.87 303.00 C266.42 304.67 265.94 306.50 265.61 308.00 C265.28 309.50 265.10 310.60 264.89 312.00 C264.68 313.40 264.44 315.67 264.35 316.40 L264.35 316.40 C264.26 315.67 264.02 313.40 263.81 312.00 C263.60 310.60 263.42 309.50 263.09 308.00 C262.76 306.50 262.28 304.67 261.83 303.00 C261.38 301.33 260.80 299.67 260.39 298.00 C259.98 296.33 259.47 294.33 259.37 293.00 C259.27 291.67 259.58 291.33 259.79 290.00 C260.00 288.67 260.37 286.67 260.63 285.00 C260.89 283.33 261.11 281.67 261.35 280.00 C261.59 278.33 261.84 276.67 262.07 275.00 C262.30 273.33 262.54 271.67 262.73 270.00 C262.92 268.33 263.06 266.67 263.21 265.00 C263.36 263.33 263.53 261.67 263.63 260.00 C263.73 258.33 263.69 256.67 263.81 255.00 C263.93 253.33 264.26 250.83 264.35 250.00 Z" fill="#babdec" fill-opacity="0.35"/>
<line x1="264.35" y1="252.00" x2="264.35" y2="314.40" stroke="#dedff6" stroke-width="0.45"/>
<rect x="262.25" y="282.20" width="4.20" height="14.00" fill="#4d54ad" stroke="#c6c9f0" stroke-width="0.6"/>
<line x1="262.25" y1="292.20" x2="266.45" y2="292.20" stroke="#ffffff" stroke-width="0.9"/>
<rect x="307.28" y="290.00" width="1.4" height="22.00" fill="#d48f5c" fill-opacity="0.05"/>
<rect x="307.18" y="292.35" width="1.6" height="1.3" fill="#d48f5c" fill-opacity="0.15"/>
<rect x="307.18" y="297.35" width="1.6" height="1.3" fill="#d48f5c" fill-opacity="0.12"/>
<rect x="307.18" y="304.35" width="1.6" height="1.3" fill="#d48f5c" fill-opacity="0.12"/>
<rect x="307.18" y="310.35" width="1.6" height="1.3" fill="#d48f5c" fill-opacity="0.12"/>
<path d="M307.98 222.60 C308.23 223.17 308.95 224.77 309.48 226.00 C310.02 227.23 310.55 228.50 311.18 230.00 C311.82 231.50 312.62 233.33 313.28 235.00 C313.95 236.67 314.67 238.33 315.18 240.00 C315.70 241.67 316.18 243.33 316.38 245.00 C316.58 246.67 316.53 248.33 316.38 250.00 C316.23 251.67 315.88 253.33 315.48 255.00 C315.08 256.67 314.48 258.33 313.98 260.00 C313.48 261.67 312.95 263.33 312.48 265.00 C312.02 266.67 311.67 267.83 311.18 270.00 C310.70 272.17 309.98 275.50 309.58 278.00 C309.18 280.50 309.05 283.00 308.78 285.00 C308.52 287.00 308.12 289.17 307.98 290.00 L307.98 290.00 C307.85 289.17 307.45 287.00 307.18 285.00 C306.92 283.00 306.78 280.50 306.38 278.00 C305.98 275.50 305.27 272.17 304.78 270.00 C304.30 267.83 303.95 266.67 303.48 265.00 C303.02 263.33 302.48 261.67 301.98 260.00 C301.48 258.33 300.88 256.67 300.48 255.00 C300.08 253.33 299.73 251.67 299.58 250.00 C299.43 248.33 299.38 246.67 299.58 245.00 C299.78 243.33 300.27 241.67 300.78 240.00 C301.30 238.33 302.02 236.67 302.68 235.00 C303.35 233.33 304.15 231.50 304.78 230.00 C305.42 228.50 305.95 227.23 306.48 226.00 C307.02 224.77 307.73 223.17 307.98 222.60 Z" fill="#d09a6f" stroke="#c47e5a" stroke-width="0.5"/>
<path d="M307.98 222.60 C308.13 223.17 308.56 224.77 308.88 226.00 C309.20 227.23 309.52 228.50 309.90 230.00 C310.28 231.50 310.76 233.33 311.16 235.00 C311.56 236.67 311.99 238.33 312.30 240.00 C312.61 241.67 312.90 243.33 313.02 245.00 C313.14 246.67 313.11 248.33 313.02 250.00 C312.93 251.67 312.72 253.33 312.48 255.00 C312.24 256.67 311.88 258.33 311.58 260.00 C311.28 261.67 310.96 263.33 310.68 265.00 C310.40 266.67 310.19 267.83 309.90 270.00 C309.61 272.17 309.18 275.50 308.94 278.00 C308.70 280.50 308.62 283.00 308.46 285.00 C308.30 287.00 308.06 289.17 307.98 290.00 L307.98 290.00 C307.90 289.17 307.66 287.00 307.50 285.00 C307.34 283.00 307.26 280.50 307.02 278.00 C306.78 275.50 306.35 272.17 306.06 270.00 C305.77 267.83 305.56 266.67 305.28 265.00 C305.00 263.33 304.68 261.67 304.38 260.00 C304.08 258.33 303.72 256.67 303.48 255.00 C303.24 253.33 303.03 251.67 302.94 250.00 C302.85 248.33 302.82 246.67 302.94 245.00 C303.06 243.33 303.35 241.67 303.66 240.00 C303.97 238.33 304.40 236.67 304.80 235.00 C305.20 233.33 305.68 231.50 306.06 230.00 C306.44 228.50 306.76 227.23 307.08 226.00 C307.40 224.77 307.83 223.17 307.98 222.60 Z" fill="#e6b896" fill-opacity="0.35"/>
<line x1="307.98" y1="224.60" x2="307.98" y2="288.00" stroke="#f2cdb0" stroke-width="0.45"/>
<rect x="305.88" y="244.60" width="4.20" height="17.40" fill="#b23828" stroke="#f0a48a" stroke-width="0.6"/>
<line x1="305.88" y1="251.40" x2="310.08" y2="251.40" stroke="#ffffff" stroke-width="0.9"/>
<path d="M331.62 226.30 C331.87 227.25 332.57 229.72 333.12 232.00 C333.67 234.28 334.33 237.33 334.92 240.00 C335.50 242.67 336.12 245.33 336.62 248.00 C337.12 250.67 337.62 253.33 337.92 256.00 C338.22 258.67 338.40 261.33 338.42 264.00 C338.43 266.67 338.27 269.33 338.02 272.00 C337.77 274.67 337.35 277.33 336.92 280.00 C336.48 282.67 335.92 285.33 335.42 288.00 C334.92 290.67 334.37 293.50 333.92 296.00 C333.47 298.50 333.10 300.83 332.72 303.00 C332.33 305.17 331.80 308.00 331.62 309.00 L331.62 309.00 C331.43 308.00 330.90 305.17 330.52 303.00 C330.13 300.83 329.77 298.50 329.32 296.00 C328.87 293.50 328.32 290.67 327.82 288.00 C327.32 285.33 326.75 282.67 326.32 280.00 C325.88 277.33 325.47 274.67 325.22 272.00 C324.97 269.33 324.80 266.67 324.82 264.00 C324.83 261.33 325.02 258.67 325.32 256.00 C325.62 253.33 326.12 250.67 326.62 248.00 C327.12 245.33 327.73 242.67 328.32 240.00 C328.90 237.33 329.57 234.28 330.12 232.00 C330.67 229.72 331.37 227.25 331.62 226.30 Z" fill="#9da0dc" stroke="#8387cf" stroke-width="0.5"/>
<path d="M331.62 226.30 C331.77 227.25 332.19 229.72 332.52 232.00 C332.85 234.28 333.25 237.33 333.60 240.00 C333.95 242.67 334.32 245.33 334.62 248.00 C334.92 250.67 335.22 253.33 335.40 256.00 C335.58 258.67 335.69 261.33 335.70 264.00 C335.71 266.67 335.61 269.33 335.46 272.00 C335.31 274.67 335.06 277.33 334.80 280.00 C334.54 282.67 334.20 285.33 333.90 288.00 C333.60 290.67 333.27 293.50 333.00 296.00 C332.73 298.50 332.51 300.83 332.28 303.00 C332.05 305.17 331.73 308.00 331.62 309.00 L331.62 309.00 C331.51 308.00 331.19 305.17 330.96 303.00 C330.73 300.83 330.51 298.50 330.24 296.00 C329.97 293.50 329.64 290.67 329.34 288.00 C329.04 285.33 328.70 282.67 328.44 280.00 C328.18 277.33 327.93 274.67 327.78 272.00 C327.63 269.33 327.53 266.67 327.54 264.00 C327.55 261.33 327.66 258.67 327.84 256.00 C328.02 253.33 328.32 250.67 328.62 248.00 C328.92 245.33 329.29 242.67 329.64 240.00 C329.99 237.33 330.39 234.28 330.72 232.00 C331.05 229.72 331.47 227.25 331.62 226.30 Z" fill="#babdec" fill-opacity="0.35"/>
<line x1="331.62" y1="228.30" x2="331.62" y2="307.00" stroke="#dedff6" stroke-width="0.45"/>
<rect x="329.52" y="253.30" width="4.20" height="22.00" fill="#4d54ad" stroke="#c6c9f0" stroke-width="0.6"/>
<line x1="329.52" y1="265.40" x2="333.72" y2="265.40" stroke="#ffffff" stroke-width="0.9"/>
<rect x="27.20" y="32.20" width="51.40" height="124.00" fill="none" stroke="#3a3a3a" stroke-width="0.85"/>
<rect x="94.20" y="32.20" width="51.30" height="124.00" fill="none" stroke="#3a3a3a" stroke-width="0.85"/>
<rect x="160.60" y="32.20" width="51.30" height="124.00" fill="none" stroke="#3a3a3a" stroke-width="0.85"/>
<rect x="227.30" y="32.20" width="51.50" height="124.00" fill="none" stroke="#3a3a3a" stroke-width="0.85"/>
<rect x="294.50" y="32.20" width="51.20" height="124.00" fill="none" stroke="#3a3a3a" stroke-width="0.85"/>
<rect x="24.40" y="208.00" width="52.80" height="123.40" fill="none" stroke="#3a3a3a" stroke-width="0.85"/>
<rect x="92.90" y="208.00" width="52.90" height="123.40" fill="none" stroke="#3a3a3a" stroke-width="0.85"/>
<rect x="160.50" y="208.00" width="52.10" height="123.40" fill="none" stroke="#3a3a3a" stroke-width="0.85"/>
<rect x="226.60" y="208.00" width="51.90" height="123.40" fill="none" stroke="#3a3a3a" stroke-width="0.85"/>
<rect x="293.80" y="208.00" width="52.00" height="123.40" fill="none" stroke="#3a3a3a" stroke-width="0.85"/>
<text transform="translate(6.3,90.6) rotate(-90)" font-size="8.6" text-anchor="middle" fill="#1a1a1a" stroke="#1a1a1a" stroke-width="0.15">Expression</text>
<text transform="translate(9.9,264.5) rotate(-90)" font-size="8.6" text-anchor="middle" fill="#1a1a1a" stroke="#1a1a1a" stroke-width="0.15">Expression</text>
<text x="0.5" y="157.0" font-size="9.5" font-weight="bold" fill="#000">a</text>
<text x="353.0" y="156.8" font-size="9.5" font-weight="bold" fill="#000">b</text>
<text x="0.8" y="332.8" font-size="9.5" font-weight="bold" fill="#000">c</text>
<text x="353.2" y="333.0" font-size="9.5" font-weight="bold" fill="#000">d</text>
<text x="49" y="17.4" font-size="5.4" fill="#1a1a1a" stroke="#1a1a1a" stroke-width="0.12">Group</text>
<rect x="66.40" y="13.40" width="4.6" height="4.6" fill="#e6a898" stroke="none"/>
<rect x="67.10" y="13.80" width="3.2" height="3.8" fill="#a83a2c" stroke="none"/>
<line x1="67.10" y1="15.70" x2="70.30" y2="15.70" stroke="#f4e4e0" stroke-width="0.6"/>
<text x="73.0" y="17.4" font-size="5.4" fill="#1a1a1a" stroke="#1a1a1a" stroke-width="0.12" textLength="139.6" lengthAdjust="spacingAndGlyphs">post−TX biopsy, protocol biopsy (PBx) without pathology</text>
<rect x="214.20" y="13.20" width="4.6" height="4.6" fill="#9a9ed8" stroke="none"/>
<rect x="214.90" y="13.60" width="3.2" height="3.8" fill="#4f569f" stroke="none"/>
<line x1="214.90" y1="15.50" x2="218.10" y2="15.50" stroke="#f4e4e0" stroke-width="0.6"/>
<text x="219.8" y="17.4" font-size="5.4" fill="#1a1a1a" stroke="#1a1a1a" stroke-width="0.12" textLength="111.6" lengthAdjust="spacingAndGlyphs">post−TX biopsy, acute tubular necrosis (ATN)</text>
<text x="75.8" y="192.6" font-size="5.4" fill="#1a1a1a" stroke="#1a1a1a" stroke-width="0.12">Group</text>
<rect x="93.50" y="188.80" width="4.6" height="4.6" fill="#e6a898" stroke="none"/>
<rect x="94.20" y="189.20" width="3.2" height="3.8" fill="#a83a2c" stroke="none"/>
<line x1="94.20" y1="191.10" x2="97.40" y2="191.10" stroke="#f4e4e0" stroke-width="0.6"/>
<text x="100.2" y="192.6" font-size="5.4" fill="#1a1a1a" stroke="#1a1a1a" stroke-width="0.12" textLength="82.8" lengthAdjust="spacingAndGlyphs">normal functioning transplants TX</text>
<rect x="186.90" y="188.80" width="4.6" height="4.6" fill="#9a9ed8" stroke="none"/>
<rect x="187.60" y="189.20" width="3.2" height="3.8" fill="#4f569f" stroke="none"/>
<line x1="187.60" y1="191.10" x2="190.80" y2="191.10" stroke="#f4e4e0" stroke-width="0.6"/>
<text x="194.4" y="192.6" font-size="5.4" fill="#1a1a1a" stroke="#1a1a1a" stroke-width="0.12" textLength="101.0" lengthAdjust="spacingAndGlyphs">acute dysfunction but no rejection ADNR</text>
<defs><linearGradient id="rdbu" x1="0" y1="0" x2="0" y2="1"><stop offset="0" stop-color="#053061"/><stop offset="0.1" stop-color="#2166ac"/><stop offset="0.2" stop-color="#4393c3"/><stop offset="0.3" stop-color="#92c5de"/><stop offset="0.4" stop-color="#d1e5f0"/><stop offset="0.5" stop-color="#ffffff"/><stop offset="0.6" stop-color="#f3dacb"/><stop offset="0.7" stop-color="#e3ae90"/><stop offset="0.8" stop-color="#bb6a5c"/><stop offset="0.9" stop-color="#8e2a36"/><stop offset="1" stop-color="#5c0a1e"/></linearGradient></defs>
<rect x="373.70" y="27.50" width="23.95" height="26.25" fill="none" stroke="#e2e2e2" stroke-width="0.5"/>
<rect x="397.65" y="27.50" width="23.95" height="26.25" fill="none" stroke="#e2e2e2" stroke-width="0.5"/>
<rect x="421.60" y="27.50" width="23.95" height="26.25" fill="none" stroke="#e2e2e2" stroke-width="0.5"/>
<rect x="445.55" y="27.50" width="23.95" height="26.25" fill="none" stroke="#e2e2e2" stroke-width="0.5"/>
<rect x="469.50" y="27.50" width="23.95" height="26.25" fill="none" stroke="#e2e2e2" stroke-width="0.5"/>
<rect x="397.65" y="53.75" width="23.95" height="26.25" fill="none" stroke="#e2e2e2" stroke-width="0.5"/>
<rect x="421.60" y="53.75" width="23.95" height="26.25" fill="none" stroke="#e2e2e2" stroke-width="0.5"/>
<rect x="445.55" y="53.75" width="23.95" height="26.25" fill="none" stroke="#e2e2e2" stroke-width="0.5"/>
<rect x="469.50" y="53.75" width="23.95" height="26.25" fill="none" stroke="#e2e2e2" stroke-width="0.5"/>
<rect x="421.60" y="80.00" width="23.95" height="26.25" fill="none" stroke="#e2e2e2" stroke-width="0.5"/>
<rect x="445.55" y="80.00" width="23.95" height="26.25" fill="none" stroke="#e2e2e2" stroke-width="0.5"/>
<rect x="469.50" y="80.00" width="23.95" height="26.25" fill="none" stroke="#e2e2e2" stroke-width="0.5"/>
<rect x="445.55" y="106.25" width="23.95" height="26.25" fill="none" stroke="#e2e2e2" stroke-width="0.5"/>
<rect x="469.50" y="106.25" width="23.95" height="26.25" fill="none" stroke="#e2e2e2" stroke-width="0.5"/>
<rect x="469.50" y="132.50" width="23.95" height="26.25" fill="none" stroke="#e2e2e2" stroke-width="0.5"/>
<ellipse cx="385.68" cy="40.62" rx="10.58" ry="11.61" fill="#243664" stroke="#1e2d55" stroke-width="0.6"/>
<ellipse cx="409.62" cy="66.88" rx="10.58" ry="11.61" fill="#243664" stroke="#1e2d55" stroke-width="0.6"/>
<ellipse cx="433.57" cy="93.12" rx="10.58" ry="11.61" fill="#243664" stroke="#1e2d55" stroke-width="0.6"/>
<ellipse cx="457.52" cy="119.38" rx="10.58" ry="11.61" fill="#243664" stroke="#1e2d55" stroke-width="0.6"/>
<ellipse cx="481.47" cy="145.62" rx="10.58" ry="11.61" fill="#243664" stroke="#1e2d55" stroke-width="0.6"/>
<ellipse cx="409.62" cy="40.62" rx="5.19" ry="5.71" fill="#d5e0ea" stroke="#b5bec6" stroke-width="0.6"/>
<path d="M407.02 38.02 L412.23 43.23 M407.02 43.23 L412.23 38.02" stroke="#222" stroke-width="0.85"/>
<ellipse cx="433.57" cy="40.62" rx="7.00" ry="7.69" fill="#dba68c" stroke="#ba8d77" stroke-width="0.6"/>
<path d="M430.97 38.02 L436.18 43.23 M430.97 43.23 L436.18 38.02" stroke="#222" stroke-width="0.85"/>
<ellipse cx="457.52" cy="40.62" rx="7.65" ry="8.40" fill="#d98c6e" stroke="#b8775d" stroke-width="0.6"/>
<ellipse cx="481.47" cy="40.62" rx="8.42" ry="9.25" fill="#cf6f59" stroke="#af5e4b" stroke-width="0.6"/>
<ellipse cx="433.57" cy="66.88" rx="5.30" ry="5.82" fill="#efdfd5" stroke="#cbbdb5" stroke-width="0.6"/>
<path d="M430.97 64.28 L436.18 69.47 M430.97 69.47 L436.18 64.28" stroke="#222" stroke-width="0.85"/>
<ellipse cx="457.52" cy="66.88" rx="5.19" ry="5.71" fill="#efdfd5" stroke="#cbbdb5" stroke-width="0.6"/>
<path d="M454.92 64.28 L460.12 69.47 M454.92 69.47 L460.12 64.28" stroke="#222" stroke-width="0.85"/>
<ellipse cx="481.47" cy="66.88" rx="7.72" ry="8.48" fill="#d5805f" stroke="#b56c50" stroke-width="0.6"/>
<ellipse cx="457.52" cy="93.12" rx="7.65" ry="8.40" fill="#7ca6d5" stroke="#698db5" stroke-width="0.6"/>
<ellipse cx="481.47" cy="93.12" rx="8.29" ry="9.10" fill="#6693cf" stroke="#567caf" stroke-width="0.6"/>
<ellipse cx="481.47" cy="119.38" rx="9.13" ry="10.03" fill="#5578c3" stroke="#4866a5" stroke-width="0.6"/>
<text transform="translate(370.90,42.83) scale(1,1.08)" font-size="8.2" text-anchor="end" fill="#000" stroke="#000" stroke-width="0.18">EZH2</text>
<text transform="translate(394.85,69.08) scale(1,1.08)" font-size="8.2" text-anchor="end" fill="#000" stroke="#000" stroke-width="0.18">CIDEA</text>
<text transform="translate(418.80,95.33) scale(1,1.08)" font-size="8.2" text-anchor="end" fill="#000" stroke="#000" stroke-width="0.18">SCD</text>
<text transform="translate(442.75,121.58) scale(1,1.08)" font-size="8.2" text-anchor="end" fill="#000" stroke="#000" stroke-width="0.18">GHR</text>
<text transform="translate(466.70,147.82) scale(1,1.08)" font-size="8.2" text-anchor="end" fill="#000" stroke="#000" stroke-width="0.18">KL</text>
<text transform="translate(387.98,25.20) rotate(-90)" font-size="8.2" fill="#000" stroke="#000" stroke-width="0.18">EZH2</text>
<text transform="translate(411.93,25.20) rotate(-90)" font-size="8.2" fill="#000" stroke="#000" stroke-width="0.18">CIDEA</text>
<text transform="translate(435.88,25.20) rotate(-90)" font-size="8.2" fill="#000" stroke="#000" stroke-width="0.18">SCD</text>
<text transform="translate(459.82,25.20) rotate(-90)" font-size="8.2" fill="#000" stroke="#000" stroke-width="0.18">GHR</text>
<text transform="translate(483.77,25.20) rotate(-90)" font-size="8.2" fill="#000" stroke="#000" stroke-width="0.18">KL</text>
<rect x="495.80" y="27.10" width="3.60" height="131.30" fill="url(#rdbu)" stroke="#b8b8b8" stroke-width="0.4"/>
<line x1="499.40" y1="27.20" x2="500.90" y2="27.20" stroke="#555" stroke-width="0.4"/>
<text x="503.60" y="30.15" font-size="8.2" fill="#000" stroke="#000" stroke-width="0.15">1</text>
<line x1="499.40" y1="40.25" x2="500.90" y2="40.25" stroke="#555" stroke-width="0.4"/>
<text x="503.60" y="43.20" font-size="8.2" fill="#000" stroke="#000" stroke-width="0.15">0.8</text>
<line x1="499.40" y1="53.30" x2="500.90" y2="53.30" stroke="#555" stroke-width="0.4"/>
<text x="503.60" y="56.25" font-size="8.2" fill="#000" stroke="#000" stroke-width="0.15">0.6</text>
<line x1="499.40" y1="66.35" x2="500.90" y2="66.35" stroke="#555" stroke-width="0.4"/>
<text x="503.60" y="69.30" font-size="8.2" fill="#000" stroke="#000" stroke-width="0.15">0.4</text>
<line x1="499.40" y1="79.40" x2="500.90" y2="79.40" stroke="#555" stroke-width="0.4"/>
<text x="503.60" y="82.35" font-size="8.2" fill="#000" stroke="#000" stroke-width="0.15">0.2</text>
<line x1="499.40" y1="92.45" x2="500.90" y2="92.45" stroke="#555" stroke-width="0.4"/>
<text x="503.60" y="95.40" font-size="8.2" fill="#000" stroke="#000" stroke-width="0.15">0</text>
<line x1="499.40" y1="105.50" x2="500.90" y2="105.50" stroke="#555" stroke-width="0.4"/>
<text x="503.60" y="108.45" font-size="8.2" fill="#000" stroke="#000" stroke-width="0.15">−0.2</text>
<line x1="499.40" y1="118.55" x2="500.90" y2="118.55" stroke="#555" stroke-width="0.4"/>
<text x="503.60" y="121.50" font-size="8.2" fill="#000" stroke="#000" stroke-width="0.15">−0.4</text>
<line x1="499.40" y1="131.60" x2="500.90" y2="131.60" stroke="#555" stroke-width="0.4"/>
<text x="503.60" y="134.55" font-size="8.2" fill="#000" stroke="#000" stroke-width="0.15">−0.6</text>
<line x1="499.40" y1="144.65" x2="500.90" y2="144.65" stroke="#555" stroke-width="0.4"/>
<text x="503.60" y="147.60" font-size="8.2" fill="#000" stroke="#000" stroke-width="0.15">−0.8</text>
<line x1="499.40" y1="157.70" x2="500.90" y2="157.70" stroke="#555" stroke-width="0.4"/>
<text x="503.60" y="160.65" font-size="8.2" fill="#000" stroke="#000" stroke-width="0.15">−1</text>
<rect x="375.20" y="202.40" width="23.70" height="24.80" fill="none" stroke="#e2e2e2" stroke-width="0.5"/>
<rect x="398.90" y="202.40" width="23.70" height="24.80" fill="none" stroke="#e2e2e2" stroke-width="0.5"/>
<rect x="422.60" y="202.40" width="23.70" height="24.80" fill="none" stroke="#e2e2e2" stroke-width="0.5"/>
<rect x="446.30" y="202.40" width="23.70" height="24.80" fill="none" stroke="#e2e2e2" stroke-width="0.5"/>
<rect x="470.00" y="202.40" width="23.70" height="24.80" fill="none" stroke="#e2e2e2" stroke-width="0.5"/>
<rect x="398.90" y="227.20" width="23.70" height="24.80" fill="none" stroke="#e2e2e2" stroke-width="0.5"/>
<rect x="422.60" y="227.20" width="23.70" height="24.80" fill="none" stroke="#e2e2e2" stroke-width="0.5"/>
<rect x="446.30" y="227.20" width="23.70" height="24.80" fill="none" stroke="#e2e2e2" stroke-width="0.5"/>
<rect x="470.00" y="227.20" width="23.70" height="24.80" fill="none" stroke="#e2e2e2" stroke-width="0.5"/>
<rect x="422.60" y="252.00" width="23.70" height="24.80" fill="none" stroke="#e2e2e2" stroke-width="0.5"/>
<rect x="446.30" y="252.00" width="23.70" height="24.80" fill="none" stroke="#e2e2e2" stroke-width="0.5"/>
<rect x="470.00" y="252.00" width="23.70" height="24.80" fill="none" stroke="#e2e2e2" stroke-width="0.5"/>
<rect x="446.30" y="276.80" width="23.70" height="24.80" fill="none" stroke="#e2e2e2" stroke-width="0.5"/>
<rect x="470.00" y="276.80" width="23.70" height="24.80" fill="none" stroke="#e2e2e2" stroke-width="0.5"/>
<rect x="470.00" y="301.60" width="23.70" height="24.80" fill="none" stroke="#e2e2e2" stroke-width="0.5"/>
<ellipse cx="387.05" cy="214.80" rx="10.46" ry="10.96" fill="#243664" stroke="#1e2d55" stroke-width="0.6"/>
<ellipse cx="410.75" cy="239.60" rx="10.46" ry="10.96" fill="#243664" stroke="#1e2d55" stroke-width="0.6"/>
<ellipse cx="434.45" cy="264.40" rx="10.46" ry="10.96" fill="#243664" stroke="#1e2d55" stroke-width="0.6"/>
<ellipse cx="458.15" cy="289.20" rx="10.46" ry="10.96" fill="#243664" stroke="#1e2d55" stroke-width="0.6"/>
<ellipse cx="481.85" cy="314.00" rx="10.46" ry="10.96" fill="#243664" stroke="#1e2d55" stroke-width="0.6"/>
<ellipse cx="410.75" cy="214.80" rx="4.45" ry="4.66" fill="#efe0d0" stroke="#cbbeb0" stroke-width="0.6"/>
<path d="M431.85 212.20 L437.05 217.40 M431.85 217.40 L437.05 212.20" stroke="#222" stroke-width="0.85"/>
<ellipse cx="458.15" cy="214.80" rx="5.02" ry="5.27" fill="#eedcd0" stroke="#cabbb0" stroke-width="0.6"/>
<ellipse cx="481.85" cy="214.80" rx="6.20" ry="6.50" fill="#e8b08e" stroke="#c59578" stroke-width="0.6"/>
<ellipse cx="434.45" cy="239.60" rx="5.13" ry="5.38" fill="#cfe0ea" stroke="#afbec6" stroke-width="0.6"/>
<ellipse cx="458.15" cy="239.60" rx="4.20" ry="4.40" fill="#d8e4ea" stroke="#b7c1c6" stroke-width="0.6"/>
<path d="M479.25 237.00 L484.45 242.20 M479.25 242.20 L484.45 237.00" stroke="#222" stroke-width="0.85"/>
<ellipse cx="458.15" cy="264.40" rx="6.20" ry="6.50" fill="#b3cce5" stroke="#98adc2" stroke-width="0.6"/>
<ellipse cx="481.85" cy="264.40" rx="4.07" ry="4.26" fill="#d5e3ee" stroke="#b5c0ca" stroke-width="0.6"/>
<ellipse cx="481.85" cy="289.20" rx="5.74" ry="6.01" fill="#b8d0e6" stroke="#9cb0c3" stroke-width="0.6"/>
<text transform="translate(371.20,217.40) scale(1,1.08)" font-size="8.2" text-anchor="end" fill="#000" stroke="#000" stroke-width="0.18">EZH2</text>
<text transform="translate(394.90,242.20) scale(1,1.08)" font-size="8.2" text-anchor="end" fill="#000" stroke="#000" stroke-width="0.18">CIDEA</text>
<text transform="translate(418.60,267.00) scale(1,1.08)" font-size="8.2" text-anchor="end" fill="#000" stroke="#000" stroke-width="0.18">SCD</text>
<text transform="translate(442.30,291.80) scale(1,1.08)" font-size="8.2" text-anchor="end" fill="#000" stroke="#000" stroke-width="0.18">GHR</text>
<text transform="translate(466.00,316.60) scale(1,1.08)" font-size="8.2" text-anchor="end" fill="#000" stroke="#000" stroke-width="0.18">KL</text>
<text transform="translate(389.35,200.10) rotate(-90)" font-size="8.2" fill="#000" stroke="#000" stroke-width="0.18">EZH2</text>
<text transform="translate(413.05,200.10) rotate(-90)" font-size="8.2" fill="#000" stroke="#000" stroke-width="0.18">CIDEA</text>
<text transform="translate(436.75,200.10) rotate(-90)" font-size="8.2" fill="#000" stroke="#000" stroke-width="0.18">SCD</text>
<text transform="translate(460.45,200.10) rotate(-90)" font-size="8.2" fill="#000" stroke="#000" stroke-width="0.18">GHR</text>
<text transform="translate(484.15,200.10) rotate(-90)" font-size="8.2" fill="#000" stroke="#000" stroke-width="0.18">KL</text>
<rect x="495.80" y="203.00" width="3.60" height="123.00" fill="url(#rdbu)" stroke="#b8b8b8" stroke-width="0.4"/>
<line x1="499.40" y1="203.80" x2="500.90" y2="203.80" stroke="#555" stroke-width="0.4"/>
<text x="503.60" y="206.75" font-size="8.2" fill="#000" stroke="#000" stroke-width="0.15">1</text>
<line x1="499.40" y1="215.90" x2="500.90" y2="215.90" stroke="#555" stroke-width="0.4"/>
<text x="503.60" y="218.85" font-size="8.2" fill="#000" stroke="#000" stroke-width="0.15">0.8</text>
<line x1="499.40" y1="228.00" x2="500.90" y2="228.00" stroke="#555" stroke-width="0.4"/>
<text x="503.60" y="230.95" font-size="8.2" fill="#000" stroke="#000" stroke-width="0.15">0.6</text>
<line x1="499.40" y1="240.10" x2="500.90" y2="240.10" stroke="#555" stroke-width="0.4"/>
<text x="503.60" y="243.05" font-size="8.2" fill="#000" stroke="#000" stroke-width="0.15">0.4</text>
<line x1="499.40" y1="252.20" x2="500.90" y2="252.20" stroke="#555" stroke-width="0.4"/>
<text x="503.60" y="255.15" font-size="8.2" fill="#000" stroke="#000" stroke-width="0.15">0.2</text>
<line x1="499.40" y1="264.30" x2="500.90" y2="264.30" stroke="#555" stroke-width="0.4"/>
<text x="503.60" y="267.25" font-size="8.2" fill="#000" stroke="#000" stroke-width="0.15">0</text>
<line x1="499.40" y1="276.40" x2="500.90" y2="276.40" stroke="#555" stroke-width="0.4"/>
<text x="503.60" y="279.35" font-size="8.2" fill="#000" stroke="#000" stroke-width="0.15">−0.2</text>
<line x1="499.40" y1="288.50" x2="500.90" y2="288.50" stroke="#555" stroke-width="0.4"/>
<text x="503.60" y="291.45" font-size="8.2" fill="#000" stroke="#000" stroke-width="0.15">−0.4</text>
<line x1="499.40" y1="300.60" x2="500.90" y2="300.60" stroke="#555" stroke-width="0.4"/>
<text x="503.60" y="303.55" font-size="8.2" fill="#000" stroke="#000" stroke-width="0.15">−0.6</text>
<line x1="499.40" y1="312.70" x2="500.90" y2="312.70" stroke="#555" stroke-width="0.4"/>
<text x="503.60" y="315.65" font-size="8.2" fill="#000" stroke="#000" stroke-width="0.15">−0.8</text>
<line x1="499.40" y1="324.80" x2="500.90" y2="324.80" stroke="#555" stroke-width="0.4"/>
<text x="503.60" y="327.75" font-size="8.2" fill="#000" stroke="#000" stroke-width="0.15">−1</text>
</svg>
</body></html>
